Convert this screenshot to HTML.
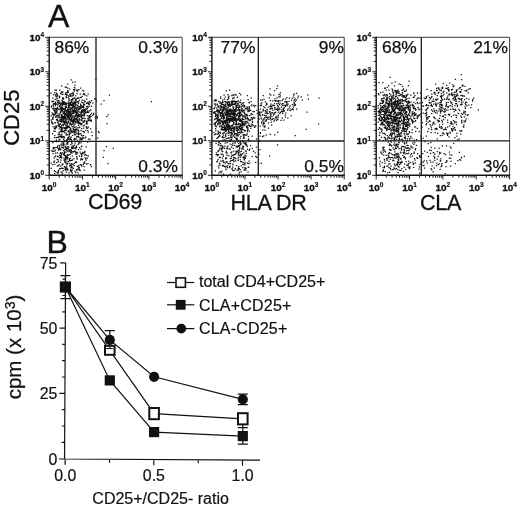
<!DOCTYPE html>
<html lang="en"><head><meta charset="utf-8"><title>Figure</title>
<style>html,body{margin:0;padding:0;background:#fff}body{width:520px;height:510px;overflow:hidden}svg{display:block;filter:blur(.35px)}text{font-family:"Liberation Sans",Arial,Helvetica,sans-serif;fill:#111}.b{font-weight:bold}.tk{font-size:9.9px;font-weight:bold;stroke:#111;stroke-width:.35px}.pc{font-size:17.4px;stroke:#111;stroke-width:.25px}.ax{font-size:21.5px;stroke:#111;stroke-width:.3px}.g{font-size:16px;stroke:#111;stroke-width:.2px}.gt{font-size:15.9px;stroke:#111;stroke-width:.2px}.big{font-size:32px;stroke:#111;stroke-width:.4px}</style></head><body>
<svg width="520" height="510" viewBox="0 0 520 510">
<rect width="520" height="510" fill="#fff"/>
<path d="M59.7 136.3h1.25M52.7 104.7h1.25M60.4 135.8h1.25M72.1 121.3h1.25M57.6 134.4h1.25M67.2 88.0h1.25M66.4 123.7h1.25M59.8 121.6h1.25M67.1 90.8h1.25M57.1 122.3h1.25M69.2 105.3h1.25M88.6 101.9h1.25M68.9 112.2h1.25M79.7 94.1h1.25M74.1 138.4h1.25M87.9 139.2h1.25M60.3 111.6h1.25M100.6 104.2h1.25M72.7 129.2h1.25M74.8 107.0h1.25M72.7 107.7h1.25M82.0 118.6h1.25M78.1 114.0h1.25M76.3 108.2h1.25M74.2 116.9h1.25M82.7 109.1h1.25M77.9 123.7h1.25M77.3 129.9h1.25M58.4 126.5h1.25M80.6 106.5h1.25M79.4 116.9h1.25M74.0 111.7h1.25M53.4 103.7h1.25M96.8 118.0h1.25M69.2 115.5h1.25M62.9 121.6h1.25M65.7 122.5h1.25M67.2 84.0h1.25M69.6 104.2h1.25M81.8 110.9h1.25M67.9 130.8h1.25M79.4 97.7h1.25M73.8 120.2h1.25M60.1 103.8h1.25M88.6 104.4h1.25M77.4 105.5h1.25M67.0 138.0h1.25M65.4 125.1h1.25M77.9 103.4h1.25M81.0 115.8h1.25M68.7 119.9h1.25M72.2 120.1h1.25M56.6 119.4h1.25M62.3 116.4h1.25M66.5 103.6h1.25M62.6 111.9h1.25M52.1 119.3h1.25M60.8 128.2h1.25M83.1 122.1h1.25M82.6 94.3h1.25M52.3 98.2h1.25M62.4 97.7h1.25M56.1 104.0h1.25M69.2 112.7h1.25M81.0 128.5h1.25M62.3 117.5h1.25M58.9 132.1h1.25M75.9 121.8h1.25M71.0 93.8h1.25M72.2 117.7h1.25M63.5 124.3h1.25M53.2 110.0h1.25M71.4 120.6h1.25M91.1 132.1h1.25M69.5 93.9h1.25M69.9 95.5h1.25M65.4 127.3h1.25M63.7 111.5h1.25M73.5 121.7h1.25M67.0 126.6h1.25M56.8 102.3h1.25M61.5 117.0h1.25M55.7 141.0h1.25M62.3 101.9h1.25M61.4 103.9h1.25M74.9 134.4h1.25M61.5 109.3h1.25M77.5 122.5h1.25M61.7 110.5h1.25M65.7 148.4h1.25M74.2 130.4h1.25M70.3 131.9h1.25M82.5 112.2h1.25M73.6 121.0h1.25M71.2 102.7h1.25M80.9 116.1h1.25M86.6 115.7h1.25M80.1 114.2h1.25M61.7 94.3h1.25M68.3 99.2h1.25M56.4 116.2h1.25M61.3 136.8h1.25M79.2 122.4h1.25M70.3 137.2h1.25M53.1 115.0h1.25M77.4 115.3h1.25M70.3 121.7h1.25M83.2 118.0h1.25M76.2 114.3h1.25M86.3 112.2h1.25M60.4 118.9h1.25M78.0 134.8h1.25M56.7 98.1h1.25M74.7 119.1h1.25M78.3 137.1h1.25M81.2 102.1h1.25M67.6 109.4h1.25M66.5 92.3h1.25M80.7 135.2h1.25M61.6 136.1h1.25M86.6 122.2h1.25M77.9 114.9h1.25M62.8 116.6h1.25M71.7 120.9h1.25M57.1 108.3h1.25M71.0 119.6h1.25M73.8 133.8h1.25M75.4 102.6h1.25M65.5 130.0h1.25M58.3 124.7h1.25M85.9 122.0h1.25M75.5 100.4h1.25M55.9 93.2h1.25M57.0 115.5h1.25M70.0 102.4h1.25M85.9 127.2h1.25M63.9 128.5h1.25M56.2 96.0h1.25M75.0 116.5h1.25M78.3 89.5h1.25M67.2 108.8h1.25M72.8 102.9h1.25M86.2 99.1h1.25M78.4 116.3h1.25M83.2 122.4h1.25M59.1 96.3h1.25M70.3 102.6h1.25M69.4 96.3h1.25M68.0 121.7h1.25M73.2 125.2h1.25M84.0 120.5h1.25M72.1 99.5h1.25M80.0 112.1h1.25M73.8 127.1h1.25M73.3 111.0h1.25M75.4 116.1h1.25M63.8 124.1h1.25M61.2 114.6h1.25M77.4 116.8h1.25M59.3 117.7h1.25M63.9 121.8h1.25M64.9 102.8h1.25M53.3 131.1h1.25M74.8 103.8h1.25M70.0 104.5h1.25M69.6 129.1h1.25M63.8 111.6h1.25M80.4 108.9h1.25M59.4 108.8h1.25M71.6 126.5h1.25M83.5 115.9h1.25M77.5 107.5h1.25M86.4 120.9h1.25M63.8 109.6h1.25M80.7 106.8h1.25M81.9 114.9h1.25M89.7 141.3h1.25M64.7 122.5h1.25M76.3 117.8h1.25M76.0 119.8h1.25M59.4 114.1h1.25M73.1 115.8h1.25M52.4 117.6h1.25M61.5 127.8h1.25M62.4 112.2h1.25M81.1 116.6h1.25M64.6 108.4h1.25M71.2 130.9h1.25M67.1 109.0h1.25M65.8 97.5h1.25M54.6 104.6h1.25M73.0 105.0h1.25M58.3 100.3h1.25M75.6 107.7h1.25M60.1 127.6h1.25M77.0 121.8h1.25M65.5 113.7h1.25M60.5 137.8h1.25M54.3 126.6h1.25M57.7 123.3h1.25M61.7 117.5h1.25M68.4 127.4h1.25M81.0 110.7h1.25M62.1 118.9h1.25M62.2 109.7h1.25M70.9 99.6h1.25M67.0 126.7h1.25M81.5 96.4h1.25M69.8 110.8h1.25M72.9 89.5h1.25M61.1 134.3h1.25M70.4 108.2h1.25M90.2 109.9h1.25M82.9 106.1h1.25M83.8 93.9h1.25M64.6 108.5h1.25M58.6 125.4h1.25M54.3 122.7h1.25M83.0 128.2h1.25M73.4 131.5h1.25M52.9 106.1h1.25M86.6 123.9h1.25M62.9 102.7h1.25M88.5 106.3h1.25M62.4 120.9h1.25M70.9 115.1h1.25M78.8 100.0h1.25M68.1 122.6h1.25M83.8 114.8h1.25M59.1 139.7h1.25M81.5 111.6h1.25M71.8 109.7h1.25M65.6 110.8h1.25M75.6 128.8h1.25M56.0 112.3h1.25M72.7 106.6h1.25M74.1 134.9h1.25M77.2 127.9h1.25M87.5 94.2h1.25M74.0 106.9h1.25M73.4 119.2h1.25M76.2 129.5h1.25M61.7 127.4h1.25M84.2 111.6h1.25M85.2 130.4h1.25M59.9 108.4h1.25M63.8 113.2h1.25M79.3 108.8h1.25M71.8 109.7h1.25M72.6 128.5h1.25M58.0 115.4h1.25M61.4 100.7h1.25M65.9 112.9h1.25M60.1 131.4h1.25M72.0 82.0h1.25M61.2 131.9h1.25M92.3 103.2h1.25M56.0 141.7h1.25M80.3 106.7h1.25M75.1 110.1h1.25M87.2 128.2h1.25M68.9 119.1h1.25M87.6 118.0h1.25M84.0 111.6h1.25M60.9 117.7h1.25M80.4 123.7h1.25M93.0 113.3h1.25M78.4 123.7h1.25M64.7 128.2h1.25M70.9 105.7h1.25M50.8 107.0h1.25M57.3 101.0h1.25M66.5 118.3h1.25M84.3 121.0h1.25M79.0 108.3h1.25M64.6 94.4h1.25M55.2 110.2h1.25M79.4 123.6h1.25M64.3 104.2h1.25M64.2 102.6h1.25M51.9 114.4h1.25M73.6 108.6h1.25M60.6 129.9h1.25M68.3 116.7h1.25M60.4 108.0h1.25M65.7 96.1h1.25M65.4 103.0h1.25M59.8 121.7h1.25M77.1 107.4h1.25M58.6 103.4h1.25M52.5 126.9h1.25M60.7 116.6h1.25M56.4 110.0h1.25M79.6 123.5h1.25M59.3 109.0h1.25M58.9 96.8h1.25M59.7 107.2h1.25M77.0 102.0h1.25M65.4 128.4h1.25M61.1 136.6h1.25M85.9 103.3h1.25M63.1 142.8h1.25M74.4 102.0h1.25M60.3 120.7h1.25M91.0 113.3h1.25M82.3 109.6h1.25M83.7 132.3h1.25M80.3 115.1h1.25M53.2 94.5h1.25M97.8 131.7h1.25M64.6 111.2h1.25M75.4 113.7h1.25M65.8 87.0h1.25M74.1 127.3h1.25M58.5 125.9h1.25M69.1 133.9h1.25M51.4 112.8h1.25M83.8 110.3h1.25M84.7 110.3h1.25M56.8 137.4h1.25M57.1 104.8h1.25M87.0 112.2h1.25M65.9 125.1h1.25M75.5 113.4h1.25M75.4 107.1h1.25M63.2 108.4h1.25M60.3 103.6h1.25M62.2 124.6h1.25M69.7 103.8h1.25M70.1 115.8h1.25M76.2 90.8h1.25M88.6 115.6h1.25M81.4 139.4h1.25M65.0 93.5h1.25M66.9 125.9h1.25M64.9 117.9h1.25M61.9 108.9h1.25M56.8 107.4h1.25M75.8 108.0h1.25M80.9 113.0h1.25M95.8 116.2h1.25M56.2 98.2h1.25M70.2 120.1h1.25M60.8 125.8h1.25M72.4 106.4h1.25M87.8 118.1h1.25M76.4 109.3h1.25M65.1 107.7h1.25M86.2 109.6h1.25M77.1 91.0h1.25M80.6 105.6h1.25M87.6 119.2h1.25M66.9 88.0h1.25M73.3 123.5h1.25M74.9 121.6h1.25M63.0 117.1h1.25M64.7 106.0h1.25M55.7 90.1h1.25M83.9 109.6h1.25M87.3 118.6h1.25M70.6 124.5h1.25M73.7 132.4h1.25M72.7 92.8h1.25M60.7 115.4h1.25M67.8 106.0h1.25M74.9 116.0h1.25M69.3 123.3h1.25M83.2 112.9h1.25M84.5 95.2h1.25M60.0 93.5h1.25M97.2 138.2h1.25M61.2 130.2h1.25M55.9 108.8h1.25M84.6 110.8h1.25M62.0 131.9h1.25M60.6 92.9h1.25M78.6 118.7h1.25M61.4 105.9h1.25M83.1 105.0h1.25M52.6 116.9h1.25M83.1 107.4h1.25M75.6 138.8h1.25M69.8 123.0h1.25M83.5 100.3h1.25M63.4 131.1h1.25M78.6 106.7h1.25M60.8 110.8h1.25M52.2 118.2h1.25M90.0 114.5h1.25M73.5 101.9h1.25M85.2 137.2h1.25M79.6 107.5h1.25M80.2 104.1h1.25M58.2 136.0h1.25M78.0 133.9h1.25M77.1 110.8h1.25M74.6 124.0h1.25M51.1 105.9h1.25M82.6 125.8h1.25M73.8 120.6h1.25M61.8 98.8h1.25M70.9 118.4h1.25M89.3 117.5h1.25M78.2 131.0h1.25M56.6 120.9h1.25M55.1 108.6h1.25M84.9 108.5h1.25M92.2 115.4h1.25M63.6 109.9h1.25M95.1 98.7h1.25M52.0 118.3h1.25M72.4 131.8h1.25M59.1 105.6h1.25M75.6 116.2h1.25M80.6 97.4h1.25M81.0 124.7h1.25M76.6 119.7h1.25M90.0 128.9h1.25M59.8 112.2h1.25M64.7 120.1h1.25M74.6 107.7h1.25M76.7 98.4h1.25M80.3 124.7h1.25M66.3 139.7h1.25M80.7 112.6h1.25M55.9 115.5h1.25M80.9 112.5h1.25M73.8 87.3h1.25M93.0 114.3h1.25M51.6 101.9h1.25M82.0 106.3h1.25M81.4 107.3h1.25M69.8 108.2h1.25M72.3 95.4h1.25M74.8 105.4h1.25M52.1 123.9h1.25M83.3 115.3h1.25M68.0 103.7h1.25M78.9 120.2h1.25M61.5 136.8h1.25M78.6 109.6h1.25M61.5 104.7h1.25M87.6 112.3h1.25M64.6 122.9h1.25M88.3 104.6h1.25M90.8 106.2h1.25M59.8 121.5h1.25M58.6 116.1h1.25M91.6 135.5h1.25M90.9 100.7h1.25M70.0 128.7h1.25M77.0 117.6h1.25M77.1 107.7h1.25M54.1 92.6h1.25M53.1 113.9h1.25M68.5 109.4h1.25M70.8 113.9h1.25M70.0 112.7h1.25M62.7 102.2h1.25M82.8 110.7h1.25M57.5 117.5h1.25M72.2 98.3h1.25M68.1 95.9h1.25M56.2 100.1h1.25M87.2 130.5h1.25M65.3 130.5h1.25M89.9 102.5h1.25M80.4 130.7h1.25M81.9 118.7h1.25M88.4 103.6h1.25M74.7 107.9h1.25M66.2 115.8h1.25M67.9 107.4h1.25M63.1 98.7h1.25M76.4 113.1h1.25M59.8 104.9h1.25M60.9 130.5h1.25M85.6 123.8h1.25M83.3 93.7h1.25M86.2 95.9h1.25M68.4 111.8h1.25M66.6 95.2h1.25M76.2 122.6h1.25M52.8 114.3h1.25M53.0 103.7h1.25M54.8 95.2h1.25M88.1 112.1h1.25M66.4 110.4h1.25M50.7 120.1h1.25M70.6 99.8h1.25M53.3 115.2h1.25M61.9 109.5h1.25M54.7 127.6h1.25M70.5 125.0h1.25M59.3 134.4h1.25M77.8 136.5h1.25M64.9 128.2h1.25M63.2 121.5h1.25M77.9 115.7h1.25M70.6 101.8h1.25M73.0 119.7h1.25M62.7 99.0h1.25M79.1 112.0h1.25M51.1 122.9h1.25M53.3 109.3h1.25M70.9 124.8h1.25M73.1 98.4h1.25M87.3 102.3h1.25M87.6 132.4h1.25M73.5 117.0h1.25M64.4 115.3h1.25M72.3 95.6h1.25M60.9 108.4h1.25M68.4 107.2h1.25M66.9 143.4h1.25M73.8 89.6h1.25M60.4 131.2h1.25M64.6 87.1h1.25M68.3 120.2h1.25M62.7 125.7h1.25M77.7 97.9h1.25M75.0 95.9h1.25M62.5 113.6h1.25M77.5 132.9h1.25M61.8 107.5h1.25M70.4 112.2h1.25M66.2 107.3h1.25M55.4 117.4h1.25M56.8 102.3h1.25M54.1 115.2h1.25M66.1 123.0h1.25M65.0 116.5h1.25M72.5 107.8h1.25M74.4 82.0h1.25M72.9 105.7h1.25M83.6 114.0h1.25M64.9 110.9h1.25M71.6 111.1h1.25M84.0 104.6h1.25M87.5 103.5h1.25M77.0 120.6h1.25M69.2 94.6h1.25M59.4 126.6h1.25M61.4 92.4h1.25M67.0 138.3h1.25M70.6 137.0h1.25M54.0 103.9h1.25M65.4 106.8h1.25M54.4 90.1h1.25M55.1 94.9h1.25M57.1 120.5h1.25M54.1 111.9h1.25M59.5 127.1h1.25M55.4 96.7h1.25M58.7 106.3h1.25M52.8 101.4h1.25M63.6 113.9h1.25M64.0 112.6h1.25M63.9 140.7h1.25M65.1 122.7h1.25M86.4 128.4h1.25M58.3 102.2h1.25M74.0 103.8h1.25M67.2 111.9h1.25M95.1 116.9h1.25M52.3 108.5h1.25M74.9 132.1h1.25M86.6 106.4h1.25M73.2 121.2h1.25M71.7 124.1h1.25M81.8 118.1h1.25M53.7 137.6h1.25M80.2 133.6h1.25M61.9 101.1h1.25M60.1 111.2h1.25M63.9 123.4h1.25M70.4 108.0h1.25M88.3 116.7h1.25M55.9 119.6h1.25M52.4 123.7h1.25M70.7 124.3h1.25M87.4 107.3h1.25M68.4 104.7h1.25M87.6 127.2h1.25M69.4 130.0h1.25M67.7 105.5h1.25M86.5 108.7h1.25M62.2 91.8h1.25M68.2 117.1h1.25M94.0 98.9h1.25M59.3 102.2h1.25M71.4 100.9h1.25M77.2 117.3h1.25M56.0 126.7h1.25M57.2 108.6h1.25M82.0 110.8h1.25M70.1 133.2h1.25M60.5 127.6h1.25M77.5 121.1h1.25M71.2 96.2h1.25M62.2 120.3h1.25M74.9 100.9h1.25M60.8 129.1h1.25M71.2 108.4h1.25M65.6 104.3h1.25M82.3 131.3h1.25M65.0 116.8h1.25M50.4 93.0h1.25M74.2 131.7h1.25M74.6 112.1h1.25M66.1 112.2h1.25M87.0 142.2h1.25M70.6 79.9h1.25M76.4 93.5h1.25M78.6 114.7h1.25M80.1 88.1h1.25M63.9 118.8h1.25M82.1 107.4h1.25M64.2 121.1h1.25M76.9 105.5h1.25M62.8 103.5h1.25M68.2 103.9h1.25M84.6 101.5h1.25M70.9 117.8h1.25M57.0 107.6h1.25M59.5 123.5h1.25M64.1 130.5h1.25M82.5 115.4h1.25M55.5 111.7h1.25M66.2 122.0h1.25M64.5 109.5h1.25M77.5 115.5h1.25M70.2 111.8h1.25M73.6 91.0h1.25M81.1 112.7h1.25M78.0 125.4h1.25M54.6 108.4h1.25M89.2 120.3h1.25M90.4 116.4h1.25M72.0 111.9h1.25M67.7 113.8h1.25M74.8 99.6h1.25M71.7 93.1h1.25M60.2 112.3h1.25M63.6 118.2h1.25M84.5 138.1h1.25M70.5 130.2h1.25M62.9 136.6h1.25M76.1 114.9h1.25M55.6 127.5h1.25M62.5 122.1h1.25M74.7 110.0h1.25M80.3 138.0h1.25M80.8 117.7h1.25M67.7 97.4h1.25M56.2 93.5h1.25M53.7 128.5h1.25M71.5 120.0h1.25M90.7 120.1h1.25M79.2 127.1h1.25M64.0 115.9h1.25M76.5 101.8h1.25M89.2 119.1h1.25M62.3 94.3h1.25M78.3 122.0h1.25M77.7 132.0h1.25M94.8 117.9h1.25M78.0 109.0h1.25M62.5 109.8h1.25M69.3 127.6h1.25M85.6 112.0h1.25M58.1 109.5h1.25M77.3 115.2h1.25M58.5 121.1h1.25M71.7 132.4h1.25M89.0 101.4h1.25M50.7 115.9h1.25M65.8 110.3h1.25M59.7 124.0h1.25M55.8 108.6h1.25M83.1 103.9h1.25M71.9 107.1h1.25M70.3 120.3h1.25M64.6 121.3h1.25M58.6 136.4h1.25M76.5 109.1h1.25M74.6 115.2h1.25M65.5 135.1h1.25M87.1 111.2h1.25M74.3 85.0h1.25M72.6 113.1h1.25M68.5 100.5h1.25M70.4 109.1h1.25M61.8 109.8h1.25M82.7 121.0h1.25M68.7 117.6h1.25M77.5 98.4h1.25M72.3 122.6h1.25M65.7 135.2h1.25M51.5 101.0h1.25M62.2 105.2h1.25M68.6 98.8h1.25M61.0 85.8h1.25M81.3 120.8h1.25M59.5 119.3h1.25M62.0 128.9h1.25M67.7 114.7h1.25M65.2 92.9h1.25M66.7 128.0h1.25M74.2 89.6h1.25M68.8 103.9h1.25M58.6 128.8h1.25M69.0 102.8h1.25M89.0 110.7h1.25M76.5 101.6h1.25M67.2 127.1h1.25M58.3 116.9h1.25M63.5 102.7h1.25M81.9 102.7h1.25M59.6 119.3h1.25M83.4 131.7h1.25M72.8 130.2h1.25M67.0 114.1h1.25M75.6 126.9h1.25M67.9 107.6h1.25M75.3 98.8h1.25M54.6 102.2h1.25M53.0 108.0h1.25M74.2 103.2h1.25M54.7 128.8h1.25M64.5 130.4h1.25M66.3 118.1h1.25M62.8 103.1h1.25M63.1 113.6h1.25M79.7 107.1h1.25M75.2 118.6h1.25M87.9 120.6h1.25M67.4 110.4h1.25M67.0 91.9h1.25M73.7 106.1h1.25M83.7 102.2h1.25M56.5 119.3h1.25M68.0 116.1h1.25M65.5 105.8h1.25M72.2 110.5h1.25M68.6 133.0h1.25M73.1 104.0h1.25M63.4 104.4h1.25M67.6 112.4h1.25M61.2 107.0h1.25M61.2 110.1h1.25M65.9 121.1h1.25M65.9 134.9h1.25M56.6 94.5h1.25M81.3 114.8h1.25M66.0 115.5h1.25M54.7 114.0h1.25M77.1 112.8h1.25M60.5 111.1h1.25M71.8 126.5h1.25M67.0 109.7h1.25M69.5 113.5h1.25M68.7 115.0h1.25M62.0 116.2h1.25M67.6 113.0h1.25M85.5 126.5h1.25M67.8 117.0h1.25M71.1 114.4h1.25M57.7 103.5h1.25M54.9 105.5h1.25M86.6 102.9h1.25M63.9 117.2h1.25M85.9 106.8h1.25M72.0 102.8h1.25M67.9 117.7h1.25M71.5 121.0h1.25M72.9 94.8h1.25M77.8 134.4h1.25M71.1 115.4h1.25M68.5 113.8h1.25M68.8 127.3h1.25M79.4 115.8h1.25M74.6 108.1h1.25M58.2 140.2h1.25M61.5 102.6h1.25M70.2 113.9h1.25M61.6 124.7h1.25M63.8 102.7h1.25M58.6 113.8h1.25M64.8 119.4h1.25M71.0 142.6h1.25M76.2 104.7h1.25M67.3 114.5h1.25M85.9 122.6h1.25M66.5 115.9h1.25M95.9 101.2h1.25M76.2 119.7h1.25M71.7 116.2h1.25M62.7 120.1h1.25M65.8 126.7h1.25M68.8 119.7h1.25M84.5 118.6h1.25M54.8 102.4h1.25M84.4 113.5h1.25M64.9 117.5h1.25M73.7 110.4h1.25M68.5 105.5h1.25M64.1 132.6h1.25M73.3 139.7h1.25M68.0 110.5h1.25M56.9 119.6h1.25M75.7 112.3h1.25M73.5 129.5h1.25M72.6 120.0h1.25M76.3 115.9h1.25M77.1 112.4h1.25M67.0 116.5h1.25M55.0 103.5h1.25M54.7 122.8h1.25M79.3 106.8h1.25M73.6 121.2h1.25M68.1 116.5h1.25M63.3 127.6h1.25M67.5 114.8h1.25M67.4 126.8h1.25M64.2 104.4h1.25M60.9 122.0h1.25M86.7 112.4h1.25M69.3 117.2h1.25M61.7 115.8h1.25M55.5 125.8h1.25M60.7 91.8h1.25M73.7 118.7h1.25M74.0 97.8h1.25M65.2 128.9h1.25M67.7 92.3h1.25M64.5 103.5h1.25M57.2 95.8h1.25M78.9 133.9h1.25M70.6 100.2h1.25M89.5 116.3h1.25M60.4 108.8h1.25M66.0 94.3h1.25M75.1 111.1h1.25M65.0 122.6h1.25M54.7 112.9h1.25M58.7 125.8h1.25M68.1 110.8h1.25M70.3 115.1h1.25M66.3 110.6h1.25M76.2 119.0h1.25M76.1 136.8h1.25M70.1 119.2h1.25M67.4 117.2h1.25M64.9 107.9h1.25M72.2 106.3h1.25M75.5 131.8h1.25M67.7 102.2h1.25M71.2 104.5h1.25M64.3 113.9h1.25M54.5 110.1h1.25M58.2 137.5h1.25M74.1 87.8h1.25M71.2 119.2h1.25M81.5 123.2h1.25M67.7 102.1h1.25M75.0 107.6h1.25M79.1 120.0h1.25M76.2 133.7h1.25M61.7 104.4h1.25M65.5 96.8h1.25M68.4 126.2h1.25M58.3 132.5h1.25M71.5 111.1h1.25M76.4 89.5h1.25M62.9 131.7h1.25M85.0 112.7h1.25M64.6 127.9h1.25M65.4 114.5h1.25M65.1 110.7h1.25M60.8 109.8h1.25M71.0 131.9h1.25M67.4 131.5h1.25M82.2 90.4h1.25M72.7 104.2h1.25M72.0 135.4h1.25M65.2 110.8h1.25M54.5 99.4h1.25M66.4 115.1h1.25M59.5 113.8h1.25M75.8 113.9h1.25M66.9 109.5h1.25M82.2 111.4h1.25M73.8 109.8h1.25M74.7 118.8h1.25M69.3 105.7h1.25M69.1 111.7h1.25M73.1 113.3h1.25M75.5 130.0h1.25M60.8 119.3h1.25M71.6 113.7h1.25M90.8 121.2h1.25M66.4 119.7h1.25M64.9 127.5h1.25M61.0 120.8h1.25M54.2 135.6h1.25M77.9 130.5h1.25M67.7 114.5h1.25M69.9 110.2h1.25M83.8 125.1h1.25M89.8 120.9h1.25M59.2 113.9h1.25M76.7 98.0h1.25M72.8 93.9h1.25M70.8 119.0h1.25M71.5 123.9h1.25M67.0 124.2h1.25M81.5 100.2h1.25M72.7 126.9h1.25M70.3 108.9h1.25M78.4 119.5h1.25M75.3 119.8h1.25M71.4 105.8h1.25M70.2 108.2h1.25M83.0 91.2h1.25M71.8 104.5h1.25M66.4 94.3h1.25M59.5 120.0h1.25M64.1 115.7h1.25M57.8 125.5h1.25M68.2 119.1h1.25M69.5 107.7h1.25M67.4 110.5h1.25M73.1 122.0h1.25M68.7 118.6h1.25M58.6 103.6h1.25M78.6 115.0h1.25M61.0 115.6h1.25M56.2 111.5h1.25M57.5 125.3h1.25M67.1 134.7h1.25M76.1 110.8h1.25M77.7 111.0h1.25M69.1 89.1h1.25M56.5 113.5h1.25M61.3 110.0h1.25M59.1 90.1h1.25M65.6 118.3h1.25M51.2 121.8h1.25M68.2 106.6h1.25M73.0 110.7h1.25M65.9 103.9h1.25M71.4 123.8h1.25M58.8 97.5h1.25M54.1 111.4h1.25M61.5 137.4h1.25M77.6 115.6h1.25M76.5 120.4h1.25M63.1 113.3h1.25M78.0 101.5h1.25M64.3 114.6h1.25M80.8 119.7h1.25M71.6 103.2h1.25M63.1 118.9h1.25M74.4 129.3h1.25M60.2 127.3h1.25M58.8 96.8h1.25M54.1 103.8h1.25M69.5 96.4h1.25M66.7 127.3h1.25M66.5 122.0h1.25M63.5 123.1h1.25M80.1 104.9h1.25M63.4 101.6h1.25M60.7 115.9h1.25M78.4 116.2h1.25M80.0 105.2h1.25M70.2 116.6h1.25M51.5 122.4h1.25M61.8 117.6h1.25M72.7 103.0h1.25M67.4 90.7h1.25M81.2 112.0h1.25M54.9 116.9h1.25M73.3 112.0h1.25M61.6 110.1h1.25M65.8 144.0h1.25M53.5 158.0h1.25M50.6 163.0h1.25M77.4 141.1h1.25M66.0 147.5h1.25M55.0 153.1h1.25M62.5 142.9h1.25M60.1 149.3h1.25M65.5 163.5h1.25M71.6 147.9h1.25M75.1 172.6h1.25M84.5 157.9h1.25M63.4 144.6h1.25M82.9 153.1h1.25M68.8 160.3h1.25M71.2 160.3h1.25M65.8 140.7h1.25M76.2 158.2h1.25M61.8 173.9h1.25M57.4 156.5h1.25M56.4 172.4h1.25M56.5 159.4h1.25M64.0 151.9h1.25M64.5 167.2h1.25M70.0 139.4h1.25M85.7 160.1h1.25M60.4 153.2h1.25M81.5 159.5h1.25M67.6 139.4h1.25M60.5 144.4h1.25M72.0 159.8h1.25M65.1 156.7h1.25M73.6 165.5h1.25M60.7 172.4h1.25M59.8 162.4h1.25M76.9 136.6h1.25M61.2 168.0h1.25M70.0 165.3h1.25M64.7 149.2h1.25M62.6 168.3h1.25M75.9 147.4h1.25M65.9 158.1h1.25M72.5 164.6h1.25M78.4 168.9h1.25M59.7 166.2h1.25M56.9 156.4h1.25M59.0 168.7h1.25M80.4 142.8h1.25M63.1 145.9h1.25M68.0 137.3h1.25M60.3 160.2h1.25M53.1 162.1h1.25M80.4 153.6h1.25M79.7 164.8h1.25M64.5 161.9h1.25M57.2 173.4h1.25M82.2 138.7h1.25M78.9 147.5h1.25M65.7 157.9h1.25M69.1 124.1h1.25M59.8 156.6h1.25M59.8 156.6h1.25M69.2 165.5h1.25M66.8 156.2h1.25M75.7 147.3h1.25M76.0 169.7h1.25M64.3 160.9h1.25M61.4 142.8h1.25M57.8 150.1h1.25M62.6 147.7h1.25M70.9 171.2h1.25M79.1 169.9h1.25M58.7 147.9h1.25M70.2 152.7h1.25M70.3 131.6h1.25M65.7 169.3h1.25M75.3 148.9h1.25M84.2 161.9h1.25M63.9 152.2h1.25M62.6 148.2h1.25M57.7 148.6h1.25M81.8 153.1h1.25M70.0 160.6h1.25M66.7 158.8h1.25M81.1 146.1h1.25M70.7 163.5h1.25M59.2 155.3h1.25M57.5 165.7h1.25M58.9 149.3h1.25M70.2 144.5h1.25M70.4 149.9h1.25M80.6 119.8h1.25M68.8 134.5h1.25M81.6 153.9h1.25M65.0 156.7h1.25M80.8 154.7h1.25M66.0 166.1h1.25M78.7 170.1h1.25M66.9 163.4h1.25M72.4 151.8h1.25M55.8 140.2h1.25M57.8 170.9h1.25M55.1 155.8h1.25M61.1 168.0h1.25M65.4 152.0h1.25M84.1 152.3h1.25M77.5 172.8h1.25M63.6 154.0h1.25M63.9 149.8h1.25M54.3 150.8h1.25M53.7 161.9h1.25M82.7 164.7h1.25M65.1 159.5h1.25M62.0 168.4h1.25M64.4 169.7h1.25M76.0 154.2h1.25M68.2 138.9h1.25M58.5 145.4h1.25M63.2 138.1h1.25M65.1 158.0h1.25M74.0 145.1h1.25M70.0 160.6h1.25M62.0 152.8h1.25M68.4 172.8h1.25M71.7 173.1h1.25M75.9 146.0h1.25M67.1 158.5h1.25M71.1 167.4h1.25M63.3 160.2h1.25M56.8 147.0h1.25M75.3 161.5h1.25M63.4 158.2h1.25M77.9 167.0h1.25M70.1 167.8h1.25M65.1 149.5h1.25M67.2 157.5h1.25M78.6 127.5h1.25M54.8 171.6h1.25M54.5 150.1h1.25M57.6 160.2h1.25M80.8 164.9h1.25M76.6 159.1h1.25M73.6 139.0h1.25M52.2 142.6h1.25M52.2 164.5h1.25M79.6 152.0h1.25M82.0 159.1h1.25M60.2 152.6h1.25M67.3 146.7h1.25M67.5 142.3h1.25M67.5 148.8h1.25M61.6 164.7h1.25M57.0 146.1h1.25M90.7 166.7h1.25M59.3 149.6h1.25M63.8 137.5h1.25M55.5 137.7h1.25M78.7 167.6h1.25M56.8 152.9h1.25M64.7 168.4h1.25M67.2 169.3h1.25M82.8 137.7h1.25M71.0 147.8h1.25M78.8 156.2h1.25M75.4 154.3h1.25M86.8 158.0h1.25M71.7 170.0h1.25M77.1 152.9h1.25M72.1 146.0h1.25M68.6 131.5h1.25M70.9 148.1h1.25M69.8 158.3h1.25M69.5 154.4h1.25M80.3 139.0h1.25M71.1 172.2h1.25M76.1 136.4h1.25M66.7 140.8h1.25M64.9 125.1h1.25M62.1 164.4h1.25M80.8 146.7h1.25M71.1 140.5h1.25M82.3 152.3h1.25M64.5 147.1h1.25M65.7 172.2h1.25M65.3 156.8h1.25M67.1 170.1h1.25M59.2 148.2h1.25M80.2 159.8h1.25M59.6 153.4h1.25M74.5 143.1h1.25M79.6 170.6h1.25M80.2 149.1h1.25M65.2 162.6h1.25M69.9 169.5h1.25M67.8 146.8h1.25M69.5 158.5h1.25M60.0 155.8h1.25M66.7 168.1h1.25M76.1 152.4h1.25M89.9 164.6h1.25M69.7 164.8h1.25M60.8 154.2h1.25M71.0 148.2h1.25M65.0 155.6h1.25M79.6 137.8h1.25M60.8 154.8h1.25M76.3 170.6h1.25M56.1 147.6h1.25M52.2 151.3h1.25M66.4 161.4h1.25M61.9 174.0h1.25M66.2 156.9h1.25M71.3 151.7h1.25M69.6 170.9h1.25M87.7 156.1h1.25M69.0 151.2h1.25M68.6 163.2h1.25M70.6 170.6h1.25M54.0 173.7h1.25M61.3 145.9h1.25M74.5 148.3h1.25M72.7 168.4h1.25M59.0 134.4h1.25M56.7 166.0h1.25M54.4 156.5h1.25M83.5 166.7h1.25M66.7 154.7h1.25M56.1 162.7h1.25M60.0 149.9h1.25M84.9 158.9h1.25M63.4 136.6h1.25M71.4 166.5h1.25M51.0 150.6h1.25M68.9 139.1h1.25M76.7 166.3h1.25M62.9 150.7h1.25M81.6 135.9h1.25M71.5 167.8h1.25M58.9 157.8h1.25M75.5 152.3h1.25M71.7 156.1h1.25M53.3 147.8h1.25M64.0 166.5h1.25M60.5 144.5h1.25M75.2 147.2h1.25M69.6 138.2h1.25M61.9 164.6h1.25M68.3 154.9h1.25M53.0 151.3h1.25M74.1 141.1h1.25M73.0 145.8h1.25M53.9 161.2h1.25M64.3 155.7h1.25M84.1 155.0h1.25M50.7 168.4h1.25M80.8 139.8h1.25M63.1 154.5h1.25M67.5 155.4h1.25M66.7 148.4h1.25M59.8 157.1h1.25M69.1 158.5h1.25M58.1 170.2h1.25M74.8 151.4h1.25M74.3 171.3h1.25M61.4 147.7h1.25M65.5 133.3h1.25M69.3 149.8h1.25M66.4 143.0h1.25M72.7 147.3h1.25M71.1 146.8h1.25M74.9 152.8h1.25M61.2 172.1h1.25M78.2 143.5h1.25M77.4 144.4h1.25M70.7 150.6h1.25M71.2 153.2h1.25M81.1 166.1h1.25M68.0 161.4h1.25M79.3 139.6h1.25M71.5 164.0h1.25M64.0 153.1h1.25M60.5 157.5h1.25M87.3 163.6h1.25M65.0 158.8h1.25M64.1 159.7h1.25M83.0 162.9h1.25M74.1 148.1h1.25M89.3 139.1h1.25M85.8 164.2h1.25M66.5 141.7h1.25M73.6 163.3h1.25M65.4 170.2h1.25M54.2 164.4h1.25M77.1 169.1h1.25M76.0 156.7h1.25M78.7 142.6h1.25M77.5 141.7h1.25M65.0 146.2h1.25M68.6 136.1h1.25M71.5 143.7h1.25M70.7 165.6h1.25M86.4 158.2h1.25M70.6 171.2h1.25M53.0 148.8h1.25M83.0 135.6h1.25M90.1 164.8h1.25M52.5 148.6h1.25M60.2 166.0h1.25M73.3 158.5h1.25M83.9 163.3h1.25M54.8 141.3h1.25M69.7 151.9h1.25M59.1 146.4h1.25M85.5 146.8h1.25M76.8 140.7h1.25M74.0 151.1h1.25M75.7 162.4h1.25M61.1 157.9h1.25M78.1 165.7h1.25M63.1 139.6h1.25M72.7 148.1h1.25M62.6 170.5h1.25M62.1 144.8h1.25M64.7 147.1h1.25M68.2 147.1h1.25M64.1 162.0h1.25M80.4 158.7h1.25M70.6 139.3h1.25M57.8 172.2h1.25M75.0 122.0h1.25M62.1 163.9h1.25M68.1 150.0h1.25M61.6 130.9h1.25M69.4 141.1h1.25M63.0 143.4h1.25M59.6 155.9h1.25M52.4 141.6h1.25M71.1 163.9h1.25M84.7 154.6h1.25M52.5 153.5h1.25M64.9 157.4h1.25M58.5 164.5h1.25M62.9 153.8h1.25M59.9 168.7h1.25M73.4 151.5h1.25M75.0 139.1h1.25M84.3 151.4h1.25M54.7 147.5h1.25M67.4 151.6h1.25M70.2 150.0h1.25M83.4 153.2h1.25M80.9 156.7h1.25M66.5 164.3h1.25M54.5 131.3h1.25M81.2 155.9h1.25M69.6 150.0h1.25M67.1 144.1h1.25M69.4 166.1h1.25M66.2 150.2h1.25M86.0 155.4h1.25M83.6 170.1h1.25M52.8 147.3h1.25M53.7 170.5h1.25M57.7 161.6h1.25M74.9 162.5h1.25M66.6 150.5h1.25M60.7 156.9h1.25M68.8 159.9h1.25M77.9 149.6h1.25M63.7 155.2h1.25M65.5 167.8h1.25M81.7 138.0h1.25M72.3 148.5h1.25M52.0 133.5h1.25M112.6 148.3h1.25M108.8 95.0h1.25M107.4 163.5h1.25M102.8 157.4h1.25M106.2 116.7h1.25M107.6 114.9h1.25M106.3 123.5h1.25M105.8 146.7h1.25M96.7 116.6h1.25M103.4 100.7h1.25M98.6 132.6h1.25M95.3 79.6h1.25M95.5 128.1h1.25M103.4 150.5h1.25M150.8 101.5h1.25" stroke="#111" stroke-width="1.25" fill="none"/>
<path d="M49.2 37.3H182.2V175.3" fill="none" stroke="#3a3a3a" stroke-width="1"/>
<path d="M49.2 36.8V175.3H182.7" fill="none" stroke="#111" stroke-width="1.4"/>
<path d="M96.0 37.3V175.3M49.2 141.3H182.2" stroke="#1a1a1a" stroke-width="1.3" fill="none"/>
<path d="M49.2 175.3v4.2M49.2 175.3h-4M59.2 175.3v2.4M49.2 164.9h-2.5M65.1 175.3v2.4M49.2 158.8h-2.5M69.2 175.3v2.4M49.2 154.5h-2.5M72.4 175.3v2.4M49.2 151.2h-2.5M75.1 175.3v2.4M49.2 148.5h-2.5M77.3 175.3v2.4M49.2 146.1h-2.5M79.2 175.3v2.4M49.2 144.1h-2.5M80.9 175.3v2.4M49.2 142.4h-2.5M82.5 175.3v4.2M49.2 140.8h-4M92.5 175.3v2.4M49.2 130.4h-2.5M98.3 175.3v2.4M49.2 124.3h-2.5M102.5 175.3v2.4M49.2 120.0h-2.5M105.7 175.3v2.4M49.2 116.7h-2.5M108.3 175.3v2.4M49.2 114.0h-2.5M110.5 175.3v2.4M49.2 111.6h-2.5M112.5 175.3v2.4M49.2 109.6h-2.5M114.2 175.3v2.4M49.2 107.9h-2.5M115.7 175.3v4.2M49.2 106.3h-4M125.7 175.3v2.4M49.2 95.9h-2.5M131.6 175.3v2.4M49.2 89.8h-2.5M135.7 175.3v2.4M49.2 85.5h-2.5M138.9 175.3v2.4M49.2 82.2h-2.5M141.6 175.3v2.4M49.2 79.5h-2.5M143.8 175.3v2.4M49.2 77.1h-2.5M145.7 175.3v2.4M49.2 75.1h-2.5M147.4 175.3v2.4M49.2 73.4h-2.5M148.9 175.3v4.2M49.2 71.8h-4M159.0 175.3v2.4M49.2 61.4h-2.5M164.8 175.3v2.4M49.2 55.3h-2.5M169.0 175.3v2.4M49.2 51.0h-2.5M172.2 175.3v2.4M49.2 47.7h-2.5M174.8 175.3v2.4M49.2 45.0h-2.5M177.0 175.3v2.4M49.2 42.6h-2.5M179.0 175.3v2.4M49.2 40.6h-2.5M180.7 175.3v2.4M49.2 38.9h-2.5M182.2 175.3v4.2M49.2 37.3h-4" stroke="#222" stroke-width="1" fill="none"/>
<text class="tk" x="41.8" y="190.7">10<tspan font-size="6.5" dy="-3.5" stroke-width=".2">0</tspan></text>
<text class="tk" x="29.6" y="178.7">10<tspan font-size="6.5" dy="-3.5" stroke-width=".2">0</tspan></text>
<text class="tk" x="75.0" y="190.7">10<tspan font-size="6.5" dy="-3.5" stroke-width=".2">1</tspan></text>
<text class="tk" x="29.6" y="144.2">10<tspan font-size="6.5" dy="-3.5" stroke-width=".2">1</tspan></text>
<text class="tk" x="108.3" y="190.7">10<tspan font-size="6.5" dy="-3.5" stroke-width=".2">2</tspan></text>
<text class="tk" x="29.6" y="109.7">10<tspan font-size="6.5" dy="-3.5" stroke-width=".2">2</tspan></text>
<text class="tk" x="141.5" y="190.7">10<tspan font-size="6.5" dy="-3.5" stroke-width=".2">3</tspan></text>
<text class="tk" x="29.6" y="75.2">10<tspan font-size="6.5" dy="-3.5" stroke-width=".2">3</tspan></text>
<text class="tk" x="174.8" y="190.7">10<tspan font-size="6.5" dy="-3.5" stroke-width=".2">4</tspan></text>
<text class="tk" x="29.6" y="40.7">10<tspan font-size="6.5" dy="-3.5" stroke-width=".2">4</tspan></text>
<text class="pc" x="54.5" y="52.6">86%</text>
<text class="pc" x="178.0" y="52.6" text-anchor="end">0.3%</text>
<text class="pc" x="178.0" y="171.7" text-anchor="end">0.3%</text>
<text class="ax" x="115" y="208.7" text-anchor="middle" letter-spacing="-.3">CD69</text>
<path d="M242.5 116.4h1.25M247.8 118.8h1.25M239.8 115.6h1.25M232.4 98.1h1.25M247.5 99.7h1.25M248.5 106.6h1.25M220.3 107.8h1.25M228.1 126.8h1.25M243.1 119.6h1.25M231.0 111.3h1.25M223.0 110.5h1.25M221.7 102.8h1.25M220.1 96.8h1.25M214.5 103.8h1.25M239.8 102.4h1.25M229.6 121.4h1.25M226.5 142.5h1.25M215.9 115.7h1.25M216.6 120.9h1.25M229.2 129.0h1.25M240.0 128.7h1.25M223.5 109.0h1.25M254.5 126.6h1.25M230.2 104.8h1.25M242.4 123.4h1.25M234.0 101.1h1.25M221.9 122.7h1.25M259.5 113.0h1.25M219.1 126.9h1.25M236.5 138.0h1.25M216.8 120.1h1.25M228.9 109.3h1.25M225.8 127.2h1.25M242.4 116.6h1.25M226.7 116.4h1.25M236.9 135.5h1.25M223.9 127.3h1.25M221.3 118.4h1.25M227.9 128.1h1.25M250.2 128.3h1.25M247.3 111.0h1.25M240.9 123.2h1.25M251.6 118.1h1.25M221.9 110.4h1.25M240.4 102.8h1.25M243.6 123.9h1.25M214.8 116.3h1.25M220.9 129.6h1.25M225.6 124.9h1.25M241.3 127.1h1.25M251.9 119.2h1.25M243.3 106.5h1.25M249.1 120.5h1.25M214.5 113.2h1.25M221.8 122.6h1.25M217.9 120.7h1.25M232.4 106.8h1.25M235.4 111.2h1.25M235.9 120.6h1.25M222.3 129.9h1.25M220.3 116.4h1.25M225.4 108.1h1.25M240.0 120.2h1.25M234.9 102.4h1.25M232.1 110.6h1.25M258.6 119.2h1.25M222.9 122.0h1.25M234.2 133.7h1.25M231.8 111.2h1.25M221.8 110.8h1.25M228.9 132.4h1.25M222.1 121.4h1.25M242.0 124.1h1.25M219.5 109.4h1.25M228.8 109.7h1.25M232.2 112.9h1.25M220.1 112.5h1.25M228.9 111.2h1.25M223.8 121.8h1.25M222.6 123.6h1.25M224.8 129.8h1.25M236.5 105.7h1.25M215.2 130.5h1.25M233.7 129.0h1.25M232.8 115.8h1.25M238.5 110.2h1.25M223.5 121.9h1.25M243.5 112.9h1.25M224.5 122.1h1.25M218.4 121.1h1.25M261.3 119.0h1.25M246.0 126.8h1.25M241.0 121.3h1.25M246.7 130.6h1.25M233.7 110.9h1.25M248.7 131.2h1.25M226.4 133.4h1.25M235.7 122.2h1.25M225.2 101.8h1.25M237.0 128.5h1.25M228.3 112.1h1.25M227.2 114.7h1.25M219.6 115.3h1.25M235.1 111.6h1.25M231.8 133.6h1.25M220.9 113.4h1.25M220.1 102.3h1.25M246.2 108.5h1.25M240.5 132.4h1.25M257.8 117.4h1.25M238.9 112.1h1.25M220.2 107.8h1.25M243.7 115.8h1.25M233.2 112.8h1.25M230.4 112.5h1.25M223.1 106.8h1.25M227.7 118.3h1.25M223.8 99.2h1.25M235.6 124.6h1.25M246.3 106.9h1.25M233.4 118.6h1.25M244.6 117.2h1.25M227.9 102.0h1.25M225.6 121.2h1.25M238.7 106.0h1.25M221.5 107.1h1.25M218.2 101.4h1.25M223.3 116.3h1.25M232.9 131.5h1.25M231.8 101.2h1.25M225.5 110.3h1.25M246.6 133.8h1.25M226.0 125.9h1.25M231.2 129.8h1.25M221.9 128.2h1.25M239.6 113.8h1.25M215.6 126.8h1.25M223.5 120.5h1.25M236.8 97.1h1.25M255.1 125.8h1.25M243.3 124.1h1.25M227.5 99.0h1.25M239.7 124.5h1.25M221.8 114.9h1.25M241.0 110.3h1.25M241.5 118.9h1.25M238.1 119.2h1.25M232.0 125.6h1.25M229.0 120.0h1.25M226.0 115.4h1.25M228.1 97.9h1.25M215.0 128.6h1.25M227.7 105.5h1.25M241.2 129.2h1.25M217.4 131.0h1.25M230.4 101.5h1.25M232.6 132.1h1.25M222.1 101.5h1.25M223.9 108.2h1.25M231.8 128.2h1.25M236.5 110.6h1.25M237.1 130.0h1.25M234.5 117.6h1.25M231.2 125.3h1.25M226.6 110.3h1.25M233.6 114.4h1.25M232.4 117.4h1.25M213.1 112.4h1.25M235.5 119.2h1.25M223.6 108.6h1.25M236.8 126.8h1.25M226.0 118.7h1.25M243.6 110.0h1.25M216.0 110.4h1.25M239.2 131.9h1.25M228.8 102.6h1.25M253.7 111.7h1.25M251.9 122.3h1.25M245.4 121.3h1.25M228.1 126.3h1.25M238.6 115.5h1.25M218.1 132.9h1.25M219.5 132.4h1.25M248.8 125.2h1.25M225.5 123.1h1.25M219.3 110.7h1.25M250.1 110.4h1.25M250.6 113.6h1.25M229.9 130.3h1.25M217.9 119.9h1.25M245.4 123.7h1.25M234.1 109.9h1.25M233.1 122.7h1.25M226.8 122.3h1.25M225.7 120.7h1.25M233.9 104.7h1.25M222.9 108.3h1.25M240.4 126.0h1.25M221.7 124.6h1.25M230.5 119.2h1.25M219.6 119.2h1.25M217.3 137.6h1.25M230.2 111.7h1.25M231.0 114.0h1.25M225.5 115.4h1.25M221.5 126.3h1.25M247.1 128.9h1.25M251.2 126.1h1.25M242.1 103.3h1.25M240.9 124.9h1.25M227.6 124.8h1.25M246.5 118.9h1.25M242.9 124.9h1.25M234.9 124.6h1.25M227.1 116.0h1.25M238.8 119.0h1.25M238.5 130.2h1.25M239.4 106.4h1.25M243.6 137.8h1.25M220.4 112.6h1.25M238.9 109.6h1.25M230.1 115.0h1.25M225.6 115.6h1.25M221.1 128.1h1.25M228.2 124.6h1.25M253.7 106.5h1.25M214.0 134.5h1.25M220.7 112.9h1.25M247.5 111.6h1.25M226.7 125.1h1.25M227.2 122.9h1.25M248.6 111.1h1.25M215.2 118.3h1.25M219.8 105.5h1.25M221.5 106.8h1.25M228.8 110.9h1.25M245.6 109.1h1.25M224.1 121.2h1.25M239.9 113.2h1.25M232.6 108.1h1.25M236.5 119.8h1.25M235.3 106.4h1.25M241.5 125.2h1.25M228.0 112.6h1.25M225.4 106.4h1.25M253.2 117.4h1.25M230.2 110.6h1.25M216.9 104.8h1.25M237.0 132.1h1.25M258.6 111.9h1.25M226.5 108.2h1.25M224.2 127.1h1.25M244.4 124.6h1.25M230.7 133.3h1.25M235.4 127.9h1.25M246.3 118.5h1.25M232.5 127.3h1.25M231.3 101.2h1.25M228.7 125.8h1.25M237.6 109.3h1.25M217.1 123.6h1.25M217.4 113.4h1.25M224.2 127.3h1.25M228.2 120.9h1.25M226.6 119.3h1.25M241.0 114.8h1.25M228.6 110.7h1.25M227.7 130.2h1.25M231.2 130.0h1.25M239.6 125.8h1.25M227.7 112.1h1.25M227.4 125.2h1.25M232.3 117.8h1.25M246.4 121.4h1.25M220.4 109.9h1.25M220.8 104.6h1.25M233.8 128.3h1.25M215.1 114.7h1.25M221.7 114.2h1.25M253.1 125.6h1.25M218.5 132.7h1.25M213.6 124.1h1.25M244.7 108.4h1.25M247.8 119.8h1.25M248.9 107.9h1.25M221.4 121.6h1.25M218.8 120.6h1.25M249.0 115.5h1.25M228.2 114.0h1.25M248.3 140.9h1.25M232.8 120.8h1.25M237.0 104.2h1.25M213.7 111.9h1.25M228.3 120.7h1.25M214.5 123.0h1.25M227.3 124.3h1.25M234.1 103.7h1.25M223.0 115.8h1.25M216.5 104.7h1.25M236.3 102.8h1.25M235.6 133.7h1.25M244.2 114.2h1.25M232.2 104.5h1.25M230.8 132.1h1.25M227.3 116.0h1.25M229.5 104.8h1.25M222.1 109.4h1.25M246.8 95.5h1.25M248.1 119.2h1.25M257.1 122.1h1.25M235.8 115.9h1.25M214.9 105.8h1.25M218.0 111.9h1.25M240.5 125.1h1.25M228.7 118.6h1.25M247.1 127.6h1.25M218.1 106.0h1.25M236.0 106.9h1.25M239.0 110.5h1.25M229.0 118.4h1.25M228.9 140.5h1.25M243.5 116.1h1.25M218.2 122.7h1.25M236.8 133.8h1.25M220.4 129.3h1.25M225.6 127.0h1.25M222.2 116.3h1.25M214.5 104.3h1.25M223.3 111.2h1.25M234.8 104.1h1.25M252.3 111.7h1.25M225.3 122.2h1.25M242.2 105.3h1.25M231.2 95.6h1.25M233.4 112.7h1.25M215.1 111.5h1.25M250.9 124.1h1.25M236.8 130.6h1.25M225.4 122.4h1.25M230.7 104.0h1.25M240.6 120.6h1.25M221.1 112.2h1.25M252.1 114.4h1.25M244.4 130.4h1.25M213.7 112.2h1.25M230.8 112.7h1.25M243.5 137.1h1.25M225.5 130.8h1.25M219.9 98.3h1.25M232.8 112.2h1.25M237.6 132.5h1.25M255.1 105.6h1.25M243.5 130.0h1.25M232.5 127.2h1.25M233.9 101.5h1.25M217.9 117.4h1.25M227.2 111.0h1.25M239.7 113.8h1.25M221.9 133.6h1.25M240.2 126.9h1.25M217.7 133.4h1.25M228.0 127.7h1.25M253.9 127.3h1.25M241.3 106.4h1.25M225.5 106.1h1.25M240.9 110.2h1.25M241.2 111.2h1.25M222.5 127.5h1.25M232.1 98.5h1.25M245.6 114.7h1.25M227.3 125.3h1.25M233.1 101.3h1.25M226.2 117.6h1.25M247.5 129.7h1.25M225.6 119.6h1.25M250.2 119.5h1.25M230.1 115.2h1.25M237.9 108.1h1.25M219.0 135.1h1.25M234.9 117.5h1.25M227.0 103.8h1.25M225.2 115.1h1.25M215.8 122.1h1.25M230.0 109.5h1.25M213.4 108.8h1.25M240.7 104.5h1.25M238.0 116.5h1.25M238.2 115.8h1.25M230.1 105.1h1.25M245.4 114.3h1.25M231.2 102.7h1.25M217.9 136.4h1.25M222.8 124.3h1.25M229.7 109.6h1.25M218.1 111.3h1.25M229.4 110.5h1.25M214.5 99.7h1.25M217.8 131.2h1.25M243.5 138.2h1.25M223.0 117.5h1.25M244.5 117.3h1.25M244.4 122.7h1.25M256.3 110.3h1.25M225.1 134.4h1.25M235.9 106.8h1.25M237.6 119.1h1.25M227.2 116.3h1.25M213.7 123.9h1.25M237.3 120.1h1.25M233.7 134.5h1.25M224.9 136.7h1.25M226.4 111.6h1.25M229.9 126.4h1.25M251.9 124.5h1.25M225.9 118.9h1.25M239.7 112.3h1.25M235.3 129.6h1.25M232.0 103.1h1.25M233.2 117.6h1.25M241.9 123.5h1.25M217.9 131.2h1.25M215.3 125.9h1.25M240.1 129.8h1.25M239.1 113.7h1.25M216.9 114.6h1.25M227.8 131.3h1.25M238.9 107.6h1.25M235.2 114.4h1.25M239.1 93.3h1.25M227.5 107.4h1.25M234.6 116.7h1.25M225.6 129.5h1.25M254.2 118.2h1.25M223.1 115.0h1.25M235.7 118.9h1.25M225.4 121.6h1.25M241.7 121.7h1.25M232.3 100.9h1.25M213.4 132.7h1.25M225.9 114.8h1.25M227.9 97.0h1.25M228.9 122.7h1.25M239.9 113.9h1.25M217.6 115.1h1.25M224.3 127.8h1.25M226.9 111.1h1.25M225.8 90.8h1.25M223.0 123.3h1.25M227.9 113.0h1.25M246.0 135.1h1.25M222.0 100.1h1.25M243.9 112.6h1.25M239.2 111.2h1.25M238.6 113.6h1.25M224.1 129.5h1.25M247.2 109.3h1.25M225.6 119.9h1.25M230.3 132.4h1.25M223.2 107.0h1.25M239.9 100.0h1.25M224.2 101.5h1.25M228.4 106.4h1.25M245.8 126.4h1.25M239.0 114.8h1.25M241.8 115.9h1.25M214.1 107.8h1.25M228.3 96.0h1.25M246.5 127.9h1.25M223.1 130.0h1.25M250.1 126.2h1.25M218.5 101.5h1.25M238.4 112.9h1.25M248.0 123.2h1.25M233.4 123.0h1.25M232.7 108.9h1.25M217.2 109.6h1.25M232.1 145.3h1.25M242.3 110.8h1.25M215.3 118.8h1.25M249.6 126.4h1.25M224.0 132.7h1.25M215.9 100.2h1.25M247.3 111.6h1.25M228.3 138.0h1.25M219.9 114.4h1.25M232.2 128.3h1.25M232.2 110.7h1.25M250.7 117.6h1.25M240.2 112.4h1.25M227.2 101.8h1.25M220.7 108.0h1.25M222.8 110.4h1.25M220.9 117.5h1.25M225.2 123.0h1.25M231.0 128.6h1.25M224.4 120.5h1.25M227.4 122.8h1.25M228.1 104.4h1.25M215.1 100.8h1.25M220.8 121.6h1.25M219.3 112.7h1.25M242.1 111.0h1.25M234.9 103.4h1.25M230.5 132.7h1.25M222.7 107.2h1.25M252.9 117.9h1.25M224.8 140.9h1.25M224.0 122.3h1.25M224.6 113.1h1.25M218.4 107.5h1.25M227.7 113.6h1.25M221.4 126.3h1.25M230.7 120.3h1.25M226.8 120.1h1.25M213.9 103.8h1.25M222.5 116.5h1.25M240.8 120.7h1.25M225.2 121.6h1.25M221.5 126.8h1.25M224.9 131.0h1.25M215.5 115.9h1.25M234.3 113.8h1.25M234.5 121.0h1.25M235.5 119.3h1.25M247.1 125.8h1.25M248.5 108.6h1.25M220.6 125.8h1.25M230.4 113.3h1.25M243.6 105.6h1.25M233.8 120.0h1.25M227.2 125.3h1.25M226.1 112.0h1.25M227.3 127.3h1.25M232.3 117.9h1.25M227.4 111.6h1.25M250.5 114.7h1.25M240.7 107.9h1.25M236.0 130.7h1.25M245.0 121.8h1.25M243.5 121.8h1.25M223.5 112.9h1.25M229.7 126.8h1.25M217.0 118.8h1.25M222.8 135.2h1.25M233.0 107.3h1.25M227.2 138.3h1.25M232.7 114.8h1.25M246.0 115.9h1.25M229.5 116.5h1.25M233.5 109.6h1.25M238.5 132.6h1.25M237.5 103.6h1.25M244.9 117.9h1.25M225.7 128.5h1.25M238.6 106.3h1.25M217.3 124.8h1.25M225.7 138.5h1.25M242.2 111.8h1.25M219.4 113.7h1.25M225.3 131.3h1.25M226.8 120.5h1.25M249.7 120.0h1.25M245.4 115.9h1.25M221.1 118.5h1.25M216.4 111.1h1.25M235.8 107.7h1.25M233.3 112.5h1.25M231.0 116.6h1.25M238.5 110.5h1.25M222.7 114.7h1.25M256.6 113.4h1.25M217.4 115.7h1.25M214.0 119.3h1.25M240.5 119.1h1.25M224.1 107.0h1.25M226.0 117.1h1.25M235.7 118.9h1.25M222.0 104.4h1.25M221.9 141.0h1.25M235.5 95.1h1.25M220.6 109.9h1.25M250.4 119.7h1.25M215.1 113.9h1.25M248.3 102.3h1.25M222.9 119.1h1.25M231.0 103.4h1.25M222.1 129.7h1.25M221.9 121.1h1.25M227.0 125.2h1.25M220.9 121.5h1.25M242.4 122.8h1.25M236.4 127.6h1.25M248.7 102.8h1.25M232.4 114.6h1.25M239.3 116.8h1.25M221.4 112.5h1.25M222.5 109.5h1.25M250.5 101.5h1.25M225.1 104.5h1.25M222.8 109.0h1.25M227.2 126.1h1.25M253.2 105.3h1.25M243.1 102.5h1.25M240.8 128.6h1.25M228.6 114.8h1.25M242.1 110.8h1.25M222.9 104.6h1.25M235.4 126.4h1.25M223.4 129.5h1.25M220.2 107.6h1.25M227.9 133.1h1.25M244.0 110.8h1.25M215.4 133.8h1.25M220.5 103.0h1.25M228.2 116.7h1.25M225.6 119.5h1.25M233.4 129.6h1.25M226.0 111.5h1.25M220.3 120.9h1.25M228.6 106.1h1.25M238.8 127.3h1.25M249.1 126.2h1.25M216.1 115.6h1.25M236.4 124.5h1.25M250.6 97.8h1.25M236.2 127.4h1.25M233.9 114.7h1.25M235.2 101.7h1.25M223.3 118.5h1.25M241.1 108.3h1.25M227.3 128.0h1.25M230.3 128.4h1.25M242.1 118.2h1.25M251.7 121.3h1.25M243.0 110.7h1.25M243.1 104.8h1.25M225.2 110.2h1.25M235.8 128.3h1.25M221.3 104.4h1.25M218.7 110.9h1.25M216.5 121.4h1.25M228.3 120.1h1.25M224.2 105.6h1.25M240.9 114.4h1.25M230.8 125.5h1.25M217.1 115.0h1.25M224.0 118.1h1.25M214.9 123.0h1.25M251.3 104.8h1.25M235.2 108.3h1.25M218.4 107.1h1.25M236.4 101.3h1.25M216.4 118.3h1.25M228.6 132.8h1.25M224.6 104.0h1.25M244.3 131.2h1.25M216.0 115.2h1.25M217.2 106.6h1.25M226.5 127.5h1.25M238.5 134.3h1.25M222.7 105.0h1.25M250.7 105.9h1.25M226.0 108.3h1.25M217.1 111.9h1.25M219.9 123.7h1.25M214.8 122.5h1.25M227.0 112.3h1.25M233.2 113.0h1.25M214.0 119.6h1.25M223.5 116.8h1.25M229.8 137.6h1.25M237.5 129.2h1.25M229.8 113.8h1.25M233.9 127.1h1.25M219.3 136.2h1.25M227.4 111.2h1.25M239.0 128.3h1.25M231.5 112.9h1.25M232.4 130.8h1.25M220.5 106.3h1.25M238.9 102.4h1.25M231.7 110.2h1.25M223.5 107.4h1.25M217.7 119.2h1.25M220.1 113.0h1.25M242.2 127.2h1.25M246.5 126.0h1.25M232.6 104.6h1.25M248.0 119.7h1.25M246.8 117.6h1.25M236.6 133.6h1.25M228.9 103.7h1.25M234.6 94.3h1.25M224.5 128.7h1.25M223.0 105.2h1.25M231.4 105.2h1.25M223.1 114.5h1.25M247.0 107.6h1.25M226.8 129.5h1.25M227.3 125.8h1.25M237.5 109.5h1.25M232.8 128.3h1.25M238.3 119.3h1.25M218.5 142.1h1.25M219.7 133.1h1.25M258.1 112.5h1.25M228.8 115.1h1.25M226.6 109.6h1.25M230.5 118.7h1.25M237.8 117.9h1.25M218.8 124.2h1.25M231.6 118.3h1.25M228.9 104.2h1.25M235.0 110.2h1.25M230.6 130.3h1.25M224.5 128.0h1.25M221.6 116.0h1.25M237.6 116.0h1.25M216.4 117.7h1.25M225.6 102.3h1.25M243.6 125.6h1.25M225.5 111.5h1.25M234.4 118.8h1.25M227.3 94.6h1.25M235.2 119.6h1.25M229.4 129.6h1.25M224.7 97.2h1.25M240.8 131.3h1.25M226.8 121.8h1.25M217.5 110.9h1.25M226.3 103.1h1.25M233.8 128.0h1.25M219.5 119.9h1.25M235.9 122.9h1.25M235.8 115.0h1.25M247.5 110.3h1.25M223.6 125.4h1.25M234.9 108.8h1.25M214.7 125.7h1.25M225.5 102.3h1.25M230.0 109.1h1.25M232.7 104.3h1.25M228.7 129.4h1.25M228.3 101.6h1.25M223.8 107.2h1.25M225.3 123.5h1.25M231.8 119.6h1.25M234.0 137.4h1.25M234.7 134.2h1.25M237.7 123.1h1.25M239.4 123.8h1.25M213.6 100.9h1.25M224.6 109.5h1.25M227.7 114.5h1.25M223.6 115.9h1.25M238.2 105.0h1.25M235.6 109.0h1.25M228.2 109.8h1.25M230.2 127.2h1.25M240.0 121.4h1.25M226.1 114.5h1.25M226.4 115.0h1.25M237.0 120.1h1.25M233.2 111.2h1.25M241.4 115.1h1.25M232.3 101.9h1.25M235.6 123.6h1.25M224.4 126.2h1.25M221.0 120.8h1.25M229.1 121.8h1.25M232.7 136.0h1.25M237.5 119.3h1.25M229.8 105.5h1.25M227.2 108.0h1.25M238.5 124.0h1.25M228.8 127.2h1.25M237.6 124.5h1.25M248.0 125.1h1.25M235.4 119.2h1.25M237.2 104.0h1.25M233.4 111.0h1.25M231.3 101.0h1.25M231.5 114.0h1.25M229.7 105.1h1.25M238.5 118.4h1.25M215.2 115.9h1.25M226.8 99.7h1.25M234.8 124.1h1.25M221.9 124.4h1.25M228.2 104.8h1.25M223.2 118.8h1.25M232.9 124.0h1.25M236.6 114.8h1.25M241.7 125.3h1.25M233.5 119.2h1.25M223.0 127.2h1.25M231.3 119.1h1.25M234.0 115.9h1.25M241.3 122.1h1.25M232.3 119.7h1.25M213.4 113.3h1.25M235.3 110.2h1.25M233.0 114.0h1.25M233.4 112.2h1.25M236.8 119.3h1.25M232.5 119.0h1.25M223.6 116.6h1.25M232.2 117.4h1.25M239.5 119.0h1.25M228.1 131.7h1.25M229.4 128.4h1.25M218.7 112.1h1.25M239.1 121.2h1.25M224.8 114.4h1.25M222.8 116.5h1.25M225.3 115.1h1.25M221.7 111.7h1.25M227.0 104.9h1.25M240.1 94.8h1.25M236.0 119.2h1.25M241.4 128.2h1.25M241.9 109.1h1.25M221.4 122.0h1.25M233.3 113.8h1.25M242.0 119.9h1.25M248.9 110.0h1.25M217.0 115.2h1.25M216.9 116.3h1.25M233.2 95.6h1.25M226.3 119.3h1.25M220.6 116.1h1.25M232.4 94.6h1.25M222.4 123.3h1.25M228.9 119.2h1.25M230.2 120.6h1.25M234.6 113.5h1.25M237.2 107.4h1.25M230.7 113.2h1.25M227.1 113.4h1.25M223.4 137.7h1.25M215.0 134.2h1.25M225.3 112.8h1.25M237.7 113.5h1.25M234.7 120.2h1.25M246.7 122.5h1.25M227.8 110.9h1.25M213.8 108.1h1.25M236.2 135.0h1.25M238.0 127.0h1.25M219.1 103.0h1.25M215.2 101.0h1.25M230.4 109.7h1.25M235.2 119.3h1.25M219.5 122.3h1.25M226.2 114.1h1.25M222.4 102.4h1.25M218.9 119.3h1.25M217.8 122.8h1.25M230.3 117.2h1.25M225.9 112.7h1.25M223.3 122.5h1.25M244.1 106.9h1.25M221.0 118.1h1.25M227.9 105.3h1.25M219.3 126.1h1.25M232.3 121.5h1.25M216.1 108.0h1.25M229.9 119.2h1.25M227.4 128.8h1.25M236.9 97.4h1.25M219.6 115.9h1.25M223.5 132.4h1.25M227.0 102.9h1.25M247.0 115.7h1.25M216.4 104.0h1.25M231.5 116.6h1.25M223.4 95.0h1.25M231.7 102.2h1.25M234.6 112.2h1.25M230.2 118.5h1.25M231.3 120.7h1.25M231.4 121.2h1.25M224.0 127.9h1.25M227.1 123.7h1.25M214.8 124.1h1.25M226.0 108.1h1.25M222.4 115.8h1.25M226.8 146.8h1.25M235.3 138.3h1.25M232.3 124.9h1.25M233.0 124.1h1.25M238.5 126.4h1.25M232.7 135.4h1.25M228.8 113.7h1.25M228.1 116.5h1.25M217.7 137.5h1.25M233.7 97.8h1.25M238.8 120.6h1.25M237.8 101.2h1.25M228.2 111.1h1.25M234.4 116.4h1.25M236.9 113.9h1.25M244.6 118.8h1.25M239.5 110.1h1.25M230.2 116.3h1.25M229.8 106.1h1.25M230.4 113.6h1.25M230.9 104.3h1.25M224.7 123.3h1.25M235.6 105.1h1.25M223.0 123.7h1.25M222.1 113.3h1.25M232.0 114.4h1.25M224.0 128.3h1.25M226.8 118.2h1.25M235.8 121.9h1.25M228.9 90.0h1.25M227.8 119.7h1.25M232.9 113.5h1.25M230.7 104.1h1.25M222.9 118.0h1.25M246.2 114.3h1.25M225.1 136.0h1.25M237.3 113.1h1.25M244.6 135.4h1.25M223.6 130.2h1.25M229.7 111.5h1.25M221.9 109.5h1.25M237.9 129.6h1.25M237.6 168.7h1.25M232.7 159.3h1.25M229.4 166.1h1.25M245.4 168.3h1.25M248.4 161.0h1.25M236.1 151.0h1.25M249.1 149.4h1.25M243.3 158.3h1.25M217.8 154.7h1.25M219.2 157.3h1.25M258.0 163.2h1.25M238.7 168.5h1.25M242.6 134.5h1.25M218.7 149.8h1.25M237.6 145.8h1.25M229.6 144.1h1.25M237.7 154.8h1.25M231.4 137.8h1.25M242.4 157.3h1.25M217.9 141.6h1.25M232.9 155.0h1.25M240.2 133.0h1.25M245.7 151.0h1.25M222.0 151.5h1.25M218.7 157.6h1.25M241.7 153.9h1.25M222.3 146.4h1.25M217.1 134.3h1.25M242.6 142.8h1.25M251.5 136.0h1.25M249.1 163.0h1.25M243.5 170.1h1.25M219.3 148.1h1.25M233.4 130.9h1.25M244.2 164.9h1.25M225.3 157.8h1.25M220.7 145.4h1.25M245.3 143.9h1.25M224.3 166.5h1.25M223.0 165.3h1.25M239.7 169.7h1.25M217.0 155.5h1.25M228.1 131.5h1.25M225.4 152.7h1.25M234.0 145.3h1.25M222.2 137.5h1.25M232.1 167.0h1.25M244.0 143.2h1.25M230.5 158.3h1.25M242.5 162.7h1.25M231.0 140.0h1.25M226.5 153.1h1.25M219.5 157.6h1.25M244.3 163.7h1.25M228.6 148.9h1.25M242.1 146.9h1.25M226.9 148.5h1.25M231.6 169.4h1.25M239.1 147.2h1.25M234.5 142.6h1.25M232.7 148.4h1.25M219.2 163.5h1.25M226.1 148.4h1.25M226.5 162.2h1.25M230.6 160.6h1.25M222.1 148.3h1.25M237.9 150.0h1.25M222.9 162.4h1.25M241.8 140.7h1.25M246.9 149.4h1.25M233.3 161.7h1.25M232.9 157.5h1.25M225.4 162.2h1.25M255.2 156.3h1.25M245.9 127.1h1.25M222.8 156.3h1.25M221.6 146.0h1.25M236.9 146.0h1.25M258.2 139.9h1.25M248.0 139.2h1.25M232.4 164.1h1.25M230.2 160.7h1.25M232.3 170.7h1.25M227.5 163.5h1.25M237.4 141.1h1.25M225.1 157.9h1.25M240.3 155.9h1.25M244.3 169.2h1.25M233.7 131.1h1.25M239.7 157.3h1.25M251.5 156.7h1.25M230.9 134.8h1.25M238.3 152.1h1.25M230.7 156.6h1.25M245.2 143.8h1.25M222.5 154.9h1.25M245.3 145.2h1.25M225.0 158.8h1.25M240.1 161.7h1.25M218.1 144.0h1.25M219.6 171.7h1.25M230.9 147.2h1.25M225.5 166.4h1.25M221.3 149.2h1.25M220.6 149.5h1.25M229.7 149.2h1.25M232.3 155.5h1.25M233.1 151.2h1.25M238.1 166.5h1.25M235.8 139.3h1.25M236.8 170.4h1.25M242.2 167.7h1.25M254.5 152.8h1.25M220.4 154.2h1.25M235.0 160.9h1.25M222.0 146.6h1.25M231.4 168.5h1.25M221.7 161.1h1.25M234.5 143.2h1.25M239.5 142.6h1.25M247.7 163.5h1.25M239.8 141.6h1.25M232.9 141.7h1.25M249.9 145.6h1.25M233.7 170.4h1.25M239.3 151.9h1.25M241.6 148.3h1.25M230.7 139.4h1.25M230.4 152.8h1.25M234.6 154.4h1.25M240.4 144.0h1.25M242.4 146.0h1.25M231.9 160.4h1.25M239.8 159.9h1.25M238.8 155.5h1.25M235.1 158.7h1.25M238.2 146.6h1.25M241.6 129.3h1.25M238.7 150.0h1.25M217.4 159.7h1.25M235.4 153.6h1.25M225.1 167.1h1.25M221.8 158.1h1.25M242.9 147.2h1.25M235.9 146.3h1.25M217.6 151.5h1.25M237.7 157.3h1.25M238.1 143.6h1.25M244.7 151.1h1.25M243.2 152.8h1.25M217.2 154.7h1.25M241.1 148.9h1.25M222.9 174.1h1.25M217.8 150.9h1.25M245.3 142.6h1.25M216.1 138.3h1.25M247.8 136.6h1.25M245.1 142.7h1.25M245.5 155.9h1.25M242.9 156.8h1.25M232.2 143.3h1.25M233.3 160.1h1.25M219.6 145.8h1.25M227.1 165.8h1.25M229.2 167.7h1.25M255.9 138.9h1.25M243.8 158.8h1.25M219.3 165.2h1.25M238.6 173.9h1.25M227.0 167.7h1.25M239.3 140.9h1.25M242.8 135.9h1.25M217.7 145.1h1.25M215.5 143.3h1.25M243.5 158.0h1.25M225.7 151.2h1.25M230.2 136.0h1.25M248.6 150.3h1.25M235.5 151.4h1.25M239.9 144.5h1.25M240.2 143.3h1.25M234.1 137.0h1.25M247.8 139.7h1.25M244.4 169.5h1.25M222.1 136.6h1.25M217.4 154.6h1.25M244.2 143.9h1.25M218.3 172.8h1.25M223.5 166.4h1.25M224.0 148.4h1.25M245.7 153.4h1.25M231.3 144.8h1.25M230.1 132.7h1.25M226.3 155.1h1.25M222.6 160.3h1.25M253.0 151.3h1.25M221.6 165.9h1.25M247.6 167.3h1.25M240.3 129.5h1.25M244.3 156.8h1.25M225.2 169.7h1.25M222.4 140.2h1.25M240.2 136.3h1.25M237.4 152.2h1.25M224.5 127.9h1.25M242.6 164.4h1.25M230.4 134.9h1.25M242.8 146.7h1.25M220.5 172.6h1.25M234.1 154.6h1.25M255.7 147.2h1.25M237.6 159.1h1.25M234.3 157.9h1.25M229.7 158.5h1.25M239.9 154.0h1.25M248.1 167.0h1.25M228.5 163.6h1.25M239.8 138.0h1.25M245.4 170.0h1.25M226.4 161.5h1.25M221.5 137.1h1.25M220.1 161.0h1.25M237.9 135.8h1.25M244.3 167.5h1.25M233.9 132.9h1.25M230.3 152.6h1.25M218.8 163.0h1.25M244.0 134.6h1.25M222.8 133.1h1.25M241.0 154.5h1.25M237.1 139.5h1.25M216.2 161.9h1.25M244.4 162.1h1.25M229.0 166.5h1.25M256.0 157.3h1.25M227.1 146.0h1.25M242.1 132.5h1.25M244.9 158.0h1.25M215.5 154.6h1.25M246.9 131.7h1.25M228.7 132.6h1.25M221.3 154.1h1.25M237.0 151.1h1.25M242.2 164.7h1.25M228.3 155.6h1.25M225.4 169.2h1.25M222.0 165.5h1.25M216.8 161.1h1.25M255.0 162.3h1.25M221.3 151.0h1.25M218.4 142.3h1.25M227.1 146.4h1.25M259.3 149.5h1.25M228.2 135.3h1.25M224.5 163.2h1.25M231.2 151.9h1.25M217.8 166.1h1.25M238.9 145.4h1.25M226.1 158.0h1.25M224.1 146.0h1.25M242.8 149.2h1.25M230.0 163.5h1.25M216.3 154.6h1.25M231.5 125.8h1.25M221.4 171.2h1.25M260.7 163.3h1.25M215.8 152.8h1.25M217.5 150.8h1.25M251.6 148.3h1.25M224.6 143.1h1.25M241.3 161.7h1.25M230.1 141.3h1.25M237.9 167.1h1.25M237.6 160.6h1.25M259.1 141.3h1.25M223.2 161.9h1.25M234.7 168.5h1.25M235.6 146.9h1.25M234.7 168.8h1.25M242.6 138.2h1.25M246.6 146.5h1.25M225.0 135.0h1.25M214.7 170.9h1.25M222.3 147.5h1.25M243.5 159.8h1.25M233.6 157.5h1.25M229.3 161.7h1.25M240.5 171.8h1.25M244.3 155.1h1.25M237.8 146.7h1.25M236.5 170.4h1.25M235.6 152.7h1.25M239.0 148.6h1.25M258.3 154.0h1.25M231.1 137.0h1.25M235.9 165.6h1.25M232.4 155.5h1.25M237.8 152.8h1.25M238.0 154.2h1.25M247.5 172.2h1.25M229.2 140.1h1.25M231.5 133.9h1.25M259.8 132.5h1.25M231.2 154.9h1.25M220.7 148.2h1.25M219.8 143.7h1.25M238.0 169.7h1.25M224.2 139.9h1.25M235.7 135.8h1.25M242.4 129.6h1.25M242.3 141.3h1.25M226.6 155.0h1.25M238.6 172.2h1.25M241.2 129.8h1.25M246.7 163.1h1.25M218.3 167.9h1.25M229.9 174.0h1.25M227.6 137.8h1.25M236.7 147.2h1.25M246.4 145.0h1.25M237.0 141.8h1.25M227.1 165.6h1.25M243.4 137.0h1.25M240.6 165.8h1.25M240.5 155.0h1.25M232.5 164.9h1.25M227.1 140.6h1.25M240.8 151.3h1.25M286.4 97.6h1.25M259.7 105.6h1.25M284.8 117.2h1.25M290.9 109.7h1.25M274.2 100.5h1.25M261.9 136.5h1.25M277.5 115.2h1.25M269.3 111.7h1.25M294.8 104.9h1.25M277.9 112.0h1.25M276.1 103.8h1.25M268.7 97.8h1.25M278.1 101.9h1.25M287.5 104.2h1.25M286.2 102.5h1.25M262.6 109.4h1.25M274.1 119.0h1.25M265.5 105.2h1.25M282.0 113.3h1.25M266.7 110.1h1.25M284.8 106.3h1.25M292.9 95.2h1.25M269.6 113.1h1.25M267.6 107.0h1.25M260.1 100.2h1.25M277.2 109.2h1.25M267.5 113.7h1.25M272.5 118.7h1.25M284.0 107.9h1.25M263.2 106.5h1.25M297.7 96.0h1.25M273.9 90.5h1.25M277.7 100.4h1.25M262.1 129.8h1.25M281.6 118.1h1.25M259.6 126.0h1.25M273.1 114.0h1.25M264.6 121.3h1.25M269.6 117.5h1.25M279.6 95.2h1.25M259.7 109.2h1.25M273.7 120.9h1.25M290.9 109.5h1.25M263.4 118.6h1.25M277.7 106.7h1.25M288.4 101.3h1.25M261.0 112.0h1.25M284.9 99.2h1.25M273.2 95.2h1.25M293.4 102.1h1.25M282.3 103.6h1.25M276.5 108.0h1.25M280.4 120.4h1.25M294.3 104.0h1.25M262.8 109.7h1.25M282.8 110.6h1.25M276.4 97.8h1.25M263.4 126.5h1.25M266.1 117.4h1.25M268.7 111.8h1.25M279.8 112.3h1.25M271.0 125.1h1.25M286.5 101.6h1.25M270.5 104.1h1.25M287.2 117.9h1.25M260.3 118.0h1.25M259.8 133.3h1.25M271.0 106.6h1.25M277.7 112.0h1.25M273.8 105.7h1.25M281.7 111.6h1.25M266.5 112.1h1.25M279.5 103.1h1.25M267.9 128.2h1.25M281.2 109.8h1.25M270.1 95.0h1.25M261.8 114.7h1.25M281.6 100.5h1.25M260.0 105.5h1.25M266.2 109.4h1.25M286.3 101.6h1.25M295.8 100.2h1.25M272.1 105.1h1.25M278.4 94.4h1.25M284.2 102.1h1.25M294.2 105.6h1.25M260.2 103.9h1.25M262.9 122.6h1.25M289.7 105.9h1.25M286.3 101.8h1.25M267.5 117.0h1.25M293.2 97.1h1.25M291.0 100.0h1.25M282.4 99.4h1.25M265.6 119.5h1.25M284.6 115.0h1.25M291.7 98.1h1.25M273.5 121.2h1.25M262.6 95.5h1.25M273.9 103.6h1.25M279.4 100.6h1.25M259.4 136.0h1.25M259.2 112.2h1.25M275.6 116.4h1.25M279.8 92.6h1.25M285.0 106.2h1.25M280.8 111.7h1.25M275.7 109.7h1.25M269.4 88.8h1.25M286.7 105.7h1.25M270.4 119.9h1.25M277.2 119.7h1.25M282.8 109.3h1.25M261.8 100.1h1.25M260.0 115.8h1.25M289.4 108.8h1.25M270.1 105.6h1.25M265.6 120.5h1.25M277.1 105.6h1.25M276.9 110.2h1.25M263.0 123.9h1.25M272.7 105.5h1.25M277.0 132.1h1.25M270.4 114.0h1.25M274.1 113.7h1.25M269.2 106.6h1.25M265.5 115.7h1.25M297.2 97.9h1.25M261.1 102.6h1.25M278.2 96.9h1.25M270.0 115.4h1.25M278.5 108.0h1.25M276.2 88.6h1.25M269.1 94.0h1.25M294.6 98.9h1.25M284.1 105.4h1.25M268.3 119.3h1.25M295.9 93.4h1.25M269.9 118.3h1.25M265.8 112.1h1.25M264.6 110.7h1.25M282.5 105.6h1.25M275.8 118.0h1.25M288.8 107.0h1.25M277.5 116.1h1.25M270.9 106.4h1.25M259.3 115.3h1.25M275.3 100.7h1.25M297.8 96.2h1.25M271.7 108.6h1.25M281.7 103.7h1.25M283.2 111.4h1.25M291.7 104.5h1.25M263.9 123.4h1.25M278.1 109.9h1.25M277.4 117.6h1.25M272.0 112.9h1.25M267.8 122.9h1.25M266.1 119.6h1.25M283.1 111.5h1.25M286.7 104.1h1.25M265.9 103.2h1.25M264.7 101.6h1.25M283.2 120.2h1.25M269.4 116.7h1.25M261.2 121.8h1.25M272.4 110.3h1.25M264.9 111.0h1.25M274.2 134.8h1.25M266.5 104.1h1.25M280.8 107.0h1.25M264.0 115.4h1.25M275.0 101.1h1.25M272.0 100.9h1.25M277.6 103.6h1.25M281.2 104.8h1.25M270.6 108.3h1.25M262.2 125.0h1.25M261.0 105.4h1.25M293.6 103.4h1.25M264.3 130.1h1.25M287.0 110.2h1.25M266.0 104.1h1.25M276.9 85.9h1.25M271.7 119.4h1.25M271.3 116.6h1.25M262.5 110.8h1.25M275.9 120.3h1.25M282.5 103.7h1.25M279.3 109.1h1.25M276.7 101.3h1.25M263.2 119.5h1.25M271.8 108.3h1.25M278.9 104.6h1.25M270.8 122.0h1.25M282.7 108.1h1.25M279.5 96.8h1.25M279.2 113.6h1.25M294.6 105.2h1.25M264.3 107.7h1.25M274.2 107.5h1.25M271.5 112.6h1.25M274.4 108.6h1.25M294.8 101.2h1.25M283.6 110.7h1.25M269.3 108.8h1.25M265.6 135.0h1.25M269.6 106.7h1.25M285.2 101.6h1.25M263.1 135.9h1.25M269.7 134.4h1.25M270.1 113.2h1.25M274.2 109.2h1.25M282.4 99.0h1.25M292.1 108.5h1.25M265.2 117.0h1.25M288.8 98.2h1.25M272.8 115.0h1.25M292.5 109.6h1.25M293.3 105.1h1.25M290.6 115.9h1.25M264.2 127.1h1.25M267.2 118.4h1.25M285.1 105.1h1.25M261.1 123.0h1.25M289.5 110.7h1.25M275.0 117.4h1.25M264.4 125.9h1.25M274.2 112.7h1.25M287.5 109.1h1.25M276.7 119.3h1.25M262.2 115.1h1.25M293.6 93.8h1.25M296.0 109.0h1.25M265.3 120.9h1.25M269.9 109.0h1.25M274.9 112.4h1.25M264.7 113.1h1.25M263.4 99.4h1.25M293.5 100.1h1.25M274.4 98.9h1.25M264.1 117.8h1.25M266.3 113.7h1.25M285.2 113.0h1.25M286.0 104.1h1.25M262.4 120.5h1.25M266.5 111.9h1.25M259.0 114.4h1.25M269.7 100.5h1.25M292.8 107.2h1.25M300.6 96.9h1.25M301.7 100.2h1.25M307.1 94.8h1.25M307.8 99.1h1.25M318.5 98.0h1.25M306.5 112.0h1.25M317.9 123.9h1.25M305.6 129.3h1.25M294.6 135.7h1.25M276.9 144.8h1.25M269.0 155.8h1.25" stroke="#111" stroke-width="1.25" fill="none"/>
<path d="M211.9 37.3H344.2V175.3" fill="none" stroke="#3a3a3a" stroke-width="1"/>
<path d="M211.9 36.8V175.3H344.7" fill="none" stroke="#111" stroke-width="1.4"/>
<path d="M258.3 37.3V175.3M211.9 141.0H344.2" stroke="#1a1a1a" stroke-width="1.3" fill="none"/>
<path d="M211.9 175.3v4.2M211.9 175.3h-4M221.9 175.3v2.4M211.9 164.9h-2.5M227.7 175.3v2.4M211.9 158.8h-2.5M231.8 175.3v2.4M211.9 154.5h-2.5M235.0 175.3v2.4M211.9 151.2h-2.5M237.6 175.3v2.4M211.9 148.5h-2.5M239.9 175.3v2.4M211.9 146.1h-2.5M241.8 175.3v2.4M211.9 144.1h-2.5M243.5 175.3v2.4M211.9 142.4h-2.5M245.0 175.3v4.2M211.9 140.8h-4M254.9 175.3v2.4M211.9 130.4h-2.5M260.8 175.3v2.4M211.9 124.3h-2.5M264.9 175.3v2.4M211.9 120.0h-2.5M268.1 175.3v2.4M211.9 116.7h-2.5M270.7 175.3v2.4M211.9 114.0h-2.5M272.9 175.3v2.4M211.9 111.6h-2.5M274.8 175.3v2.4M211.9 109.6h-2.5M276.5 175.3v2.4M211.9 107.9h-2.5M278.1 175.3v4.2M211.9 106.3h-4M288.0 175.3v2.4M211.9 95.9h-2.5M293.8 175.3v2.4M211.9 89.8h-2.5M298.0 175.3v2.4M211.9 85.5h-2.5M301.2 175.3v2.4M211.9 82.2h-2.5M303.8 175.3v2.4M211.9 79.5h-2.5M306.0 175.3v2.4M211.9 77.1h-2.5M307.9 175.3v2.4M211.9 75.1h-2.5M309.6 175.3v2.4M211.9 73.4h-2.5M311.1 175.3v4.2M211.9 71.8h-4M321.1 175.3v2.4M211.9 61.4h-2.5M326.9 175.3v2.4M211.9 55.3h-2.5M331.0 175.3v2.4M211.9 51.0h-2.5M334.2 175.3v2.4M211.9 47.7h-2.5M336.9 175.3v2.4M211.9 45.0h-2.5M339.1 175.3v2.4M211.9 42.6h-2.5M341.0 175.3v2.4M211.9 40.6h-2.5M342.7 175.3v2.4M211.9 38.9h-2.5M344.2 175.3v4.2M211.9 37.3h-4" stroke="#222" stroke-width="1" fill="none"/>
<text class="tk" x="204.5" y="190.7">10<tspan font-size="6.5" dy="-3.5" stroke-width=".2">0</tspan></text>
<text class="tk" x="192.3" y="178.7">10<tspan font-size="6.5" dy="-3.5" stroke-width=".2">0</tspan></text>
<text class="tk" x="237.6" y="190.7">10<tspan font-size="6.5" dy="-3.5" stroke-width=".2">1</tspan></text>
<text class="tk" x="192.3" y="144.2">10<tspan font-size="6.5" dy="-3.5" stroke-width=".2">1</tspan></text>
<text class="tk" x="270.7" y="190.7">10<tspan font-size="6.5" dy="-3.5" stroke-width=".2">2</tspan></text>
<text class="tk" x="192.3" y="109.7">10<tspan font-size="6.5" dy="-3.5" stroke-width=".2">2</tspan></text>
<text class="tk" x="303.7" y="190.7">10<tspan font-size="6.5" dy="-3.5" stroke-width=".2">3</tspan></text>
<text class="tk" x="192.3" y="75.2">10<tspan font-size="6.5" dy="-3.5" stroke-width=".2">3</tspan></text>
<text class="tk" x="336.8" y="190.7">10<tspan font-size="6.5" dy="-3.5" stroke-width=".2">4</tspan></text>
<text class="tk" x="192.3" y="40.7">10<tspan font-size="6.5" dy="-3.5" stroke-width=".2">4</tspan></text>
<text class="pc" x="220.6" y="52.6">77%</text>
<text class="pc" x="344.0" y="52.6" text-anchor="end">9%</text>
<text class="pc" x="344.0" y="171.7" text-anchor="end">0.5%</text>
<text class="ax" x="268.5" y="209.7" text-anchor="middle" letter-spacing="-.3">HLA DR</text>
<path d="M415.0 120.7h1.25M405.8 102.0h1.25M410.2 116.3h1.25M414.7 121.1h1.25M402.0 101.0h1.25M391.0 104.6h1.25M389.2 129.4h1.25M414.7 108.4h1.25M393.9 132.9h1.25M387.2 115.0h1.25M386.9 103.4h1.25M413.8 108.8h1.25M404.9 100.9h1.25M387.2 124.5h1.25M395.9 104.8h1.25M412.1 122.2h1.25M397.4 108.4h1.25M389.1 102.2h1.25M405.1 126.4h1.25M400.3 105.9h1.25M409.2 112.9h1.25M398.6 93.5h1.25M402.9 124.2h1.25M391.5 109.4h1.25M407.7 102.9h1.25M389.1 114.9h1.25M406.2 111.8h1.25M409.3 111.2h1.25M388.8 101.4h1.25M400.6 111.8h1.25M393.1 95.9h1.25M380.9 107.3h1.25M402.0 107.9h1.25M397.7 104.6h1.25M412.7 97.3h1.25M417.5 116.1h1.25M407.8 125.1h1.25M383.3 108.0h1.25M401.0 109.9h1.25M387.6 121.7h1.25M393.9 138.4h1.25M412.2 120.8h1.25M383.0 100.8h1.25M425.9 117.4h1.25M385.8 112.2h1.25M408.0 122.0h1.25M393.3 104.5h1.25M381.4 125.1h1.25M407.2 107.1h1.25M388.8 96.5h1.25M395.1 99.8h1.25M389.0 112.3h1.25M416.1 99.6h1.25M398.6 100.7h1.25M388.0 129.2h1.25M391.6 123.4h1.25M386.7 111.8h1.25M404.5 124.9h1.25M403.2 122.7h1.25M393.0 92.4h1.25M388.7 110.2h1.25M403.4 121.8h1.25M397.1 136.3h1.25M412.2 111.8h1.25M402.4 110.0h1.25M402.8 107.9h1.25M407.5 107.2h1.25M398.7 110.6h1.25M386.0 100.3h1.25M381.7 98.5h1.25M397.9 129.7h1.25M380.7 123.5h1.25M403.2 131.0h1.25M413.3 102.4h1.25M394.5 131.2h1.25M404.3 97.4h1.25M390.8 129.9h1.25M402.8 105.3h1.25M404.9 122.3h1.25M379.1 132.9h1.25M383.5 120.5h1.25M405.3 99.3h1.25M406.9 115.5h1.25M399.8 118.0h1.25M381.7 109.3h1.25M421.8 122.6h1.25M401.9 131.1h1.25M379.0 127.7h1.25M397.4 115.7h1.25M396.1 113.9h1.25M387.5 103.1h1.25M384.6 118.7h1.25M390.6 120.1h1.25M387.1 127.7h1.25M394.5 140.6h1.25M378.7 111.1h1.25M392.9 110.2h1.25M417.2 116.4h1.25M405.8 117.0h1.25M397.6 109.4h1.25M413.5 97.2h1.25M389.9 123.8h1.25M403.2 127.1h1.25M390.4 118.5h1.25M388.7 110.0h1.25M395.3 121.6h1.25M401.5 101.0h1.25M405.2 101.1h1.25M398.3 134.2h1.25M398.9 134.9h1.25M395.9 115.7h1.25M393.2 117.0h1.25M392.3 120.1h1.25M393.8 110.3h1.25M390.2 115.9h1.25M407.0 119.3h1.25M394.8 117.9h1.25M389.0 124.0h1.25M402.0 103.3h1.25M400.3 118.2h1.25M395.9 131.9h1.25M402.9 100.7h1.25M403.0 118.3h1.25M389.9 112.2h1.25M392.5 127.0h1.25M386.2 97.0h1.25M392.6 116.7h1.25M405.8 108.2h1.25M395.3 121.9h1.25M387.4 104.7h1.25M382.1 102.0h1.25M381.2 122.4h1.25M381.6 119.2h1.25M405.6 123.0h1.25M384.1 109.5h1.25M390.3 112.1h1.25M417.6 115.6h1.25M391.0 136.2h1.25M402.8 120.7h1.25M381.3 119.5h1.25M382.8 100.7h1.25M398.5 112.9h1.25M407.3 106.8h1.25M414.5 114.2h1.25M385.8 102.5h1.25M391.2 101.2h1.25M390.2 133.4h1.25M401.0 113.3h1.25M402.6 108.3h1.25M405.0 97.5h1.25M387.5 123.0h1.25M392.2 89.8h1.25M405.8 129.7h1.25M393.5 104.4h1.25M386.4 129.1h1.25M392.2 127.8h1.25M386.7 135.6h1.25M406.7 121.6h1.25M390.6 118.3h1.25M379.9 116.7h1.25M406.4 95.2h1.25M407.0 117.8h1.25M377.6 122.2h1.25M421.7 102.6h1.25M378.9 135.3h1.25M415.1 131.3h1.25M403.8 91.3h1.25M402.6 125.5h1.25M388.1 85.6h1.25M384.2 118.1h1.25M401.1 106.5h1.25M380.0 105.6h1.25M402.2 127.8h1.25M404.6 110.8h1.25M408.0 133.9h1.25M414.3 95.7h1.25M389.0 105.9h1.25M383.9 116.1h1.25M379.2 132.5h1.25M394.5 118.9h1.25M395.5 104.6h1.25M402.1 123.2h1.25M392.2 122.0h1.25M401.3 107.6h1.25M397.7 131.1h1.25M396.4 122.9h1.25M378.4 94.8h1.25M385.5 102.3h1.25M407.4 127.7h1.25M397.0 106.5h1.25M401.6 105.9h1.25M390.9 96.7h1.25M423.6 98.2h1.25M408.1 114.4h1.25M404.8 131.6h1.25M405.8 96.4h1.25M407.6 109.4h1.25M390.1 100.7h1.25M405.8 131.9h1.25M409.8 109.0h1.25M399.5 112.6h1.25M397.3 128.5h1.25M383.5 133.6h1.25M398.0 105.5h1.25M403.3 130.1h1.25M407.9 101.1h1.25M383.0 105.7h1.25M390.8 113.2h1.25M419.9 92.8h1.25M403.6 120.6h1.25M387.8 103.6h1.25M405.0 128.4h1.25M389.0 127.0h1.25M402.0 129.1h1.25M400.8 111.8h1.25M400.2 102.0h1.25M388.2 112.1h1.25M403.5 140.5h1.25M399.7 127.8h1.25M380.4 111.3h1.25M400.2 116.5h1.25M398.7 107.7h1.25M417.3 107.9h1.25M382.1 133.1h1.25M392.1 102.9h1.25M385.2 108.1h1.25M386.4 122.3h1.25M403.8 128.5h1.25M395.0 103.1h1.25M391.5 121.1h1.25M386.6 139.0h1.25M396.5 108.7h1.25M383.7 121.6h1.25M392.9 117.4h1.25M392.4 92.9h1.25M400.5 106.4h1.25M386.7 109.0h1.25M394.2 134.8h1.25M408.4 114.9h1.25M389.9 103.8h1.25M380.5 110.1h1.25M387.2 109.0h1.25M405.8 90.2h1.25M391.4 99.0h1.25M380.7 120.8h1.25M386.0 119.6h1.25M400.2 84.5h1.25M415.1 103.6h1.25M409.1 132.4h1.25M391.0 104.1h1.25M399.3 114.1h1.25M403.3 95.8h1.25M385.4 110.5h1.25M384.5 128.4h1.25M420.4 113.6h1.25M404.5 107.4h1.25M395.9 120.1h1.25M383.3 97.6h1.25M405.2 91.1h1.25M386.8 110.7h1.25M396.2 128.7h1.25M413.2 108.3h1.25M406.4 105.0h1.25M390.3 131.0h1.25M384.9 127.4h1.25M405.3 131.3h1.25M388.8 122.4h1.25M413.6 106.7h1.25M392.8 102.6h1.25M377.6 105.5h1.25M394.8 117.6h1.25M379.8 108.8h1.25M382.3 117.5h1.25M394.2 106.4h1.25M398.8 120.0h1.25M397.0 123.6h1.25M394.5 100.5h1.25M392.7 106.9h1.25M394.9 116.2h1.25M408.8 118.9h1.25M411.5 115.3h1.25M395.7 119.0h1.25M409.4 109.9h1.25M395.2 117.8h1.25M389.7 113.6h1.25M386.7 123.0h1.25M399.7 136.4h1.25M413.4 118.5h1.25M396.3 137.7h1.25M409.6 107.6h1.25M387.9 126.0h1.25M397.0 131.3h1.25M408.4 124.0h1.25M385.3 99.8h1.25M405.6 95.0h1.25M395.4 121.6h1.25M407.8 85.6h1.25M413.2 121.9h1.25M402.6 124.2h1.25M396.1 106.5h1.25M403.9 119.6h1.25M392.7 116.6h1.25M383.8 117.5h1.25M427.4 107.7h1.25M395.2 101.6h1.25M395.0 107.1h1.25M399.9 95.0h1.25M392.3 95.5h1.25M397.6 128.5h1.25M384.1 88.3h1.25M379.1 110.0h1.25M390.2 114.9h1.25M402.3 103.5h1.25M385.0 128.6h1.25M392.3 106.4h1.25M393.9 112.6h1.25M398.0 124.5h1.25M400.0 109.0h1.25M404.6 107.7h1.25M389.4 77.3h1.25M405.6 114.3h1.25M395.8 128.3h1.25M389.8 99.1h1.25M413.2 117.2h1.25M396.7 103.3h1.25M382.9 102.1h1.25M410.0 118.2h1.25M403.6 123.4h1.25M398.6 95.7h1.25M397.6 132.1h1.25M384.4 111.6h1.25M385.5 90.2h1.25M393.0 111.5h1.25M399.6 105.8h1.25M386.5 97.0h1.25M397.2 130.7h1.25M379.7 112.2h1.25M390.7 96.3h1.25M401.9 110.5h1.25M404.3 108.3h1.25M389.3 115.4h1.25M407.7 105.4h1.25M396.3 104.0h1.25M403.6 118.8h1.25M398.9 110.4h1.25M405.4 107.3h1.25M398.3 136.4h1.25M420.5 114.2h1.25M416.7 118.1h1.25M396.5 91.2h1.25M385.2 109.4h1.25M386.3 122.2h1.25M403.4 117.4h1.25M382.5 95.1h1.25M416.7 128.3h1.25M386.6 98.5h1.25M391.7 122.0h1.25M410.1 136.3h1.25M381.0 118.2h1.25M406.4 98.5h1.25M399.0 107.0h1.25M382.5 119.5h1.25M416.9 102.3h1.25M384.0 105.4h1.25M383.9 133.3h1.25M406.0 130.1h1.25M385.4 99.8h1.25M397.7 131.0h1.25M381.8 119.3h1.25M387.9 119.3h1.25M377.5 105.8h1.25M400.0 121.8h1.25M391.3 127.9h1.25M387.4 114.8h1.25M396.7 117.3h1.25M397.8 101.5h1.25M399.8 113.1h1.25M387.8 124.1h1.25M378.4 113.1h1.25M412.1 105.8h1.25M407.4 133.9h1.25M398.3 99.7h1.25M411.4 138.0h1.25M401.4 107.7h1.25M394.1 120.8h1.25M393.7 126.5h1.25M383.7 105.2h1.25M391.0 136.9h1.25M396.4 107.1h1.25M407.6 113.8h1.25M402.0 86.4h1.25M407.3 106.9h1.25M411.4 132.7h1.25M390.8 107.1h1.25M380.8 137.3h1.25M383.7 125.0h1.25M407.3 94.0h1.25M394.0 103.0h1.25M395.3 115.8h1.25M412.0 123.0h1.25M406.6 116.8h1.25M420.5 116.7h1.25M385.7 123.0h1.25M406.1 107.9h1.25M398.2 124.2h1.25M387.0 107.7h1.25M390.5 106.1h1.25M396.3 106.3h1.25M405.8 117.5h1.25M390.1 100.4h1.25M388.0 107.3h1.25M395.0 96.4h1.25M377.7 115.4h1.25M398.2 95.7h1.25M399.5 112.5h1.25M400.0 114.3h1.25M393.6 133.3h1.25M387.7 115.6h1.25M380.9 128.8h1.25M384.1 113.3h1.25M387.7 103.2h1.25M393.6 123.1h1.25M380.4 112.3h1.25M387.5 109.0h1.25M405.8 119.8h1.25M386.2 103.2h1.25M413.3 93.6h1.25M392.0 110.3h1.25M381.5 123.0h1.25M401.6 95.9h1.25M402.0 92.8h1.25M384.1 94.4h1.25M390.6 130.2h1.25M402.6 108.7h1.25M413.9 112.5h1.25M401.8 96.4h1.25M379.5 120.3h1.25M393.1 108.0h1.25M402.0 95.5h1.25M397.3 121.2h1.25M398.3 100.0h1.25M394.0 119.5h1.25M403.9 110.8h1.25M402.1 114.6h1.25M415.5 114.2h1.25M386.8 129.3h1.25M402.9 95.7h1.25M387.2 138.2h1.25M382.5 124.5h1.25M395.7 145.8h1.25M379.5 115.9h1.25M392.7 129.7h1.25M388.9 98.8h1.25M382.3 92.0h1.25M397.5 90.1h1.25M391.4 119.5h1.25M393.9 113.6h1.25M386.6 116.4h1.25M393.3 139.9h1.25M382.1 111.4h1.25M397.9 121.6h1.25M384.3 124.9h1.25M396.2 144.1h1.25M394.5 98.0h1.25M400.0 118.1h1.25M388.0 119.5h1.25M402.7 127.8h1.25M389.2 138.4h1.25M385.8 113.0h1.25M396.7 97.7h1.25M385.8 102.6h1.25M401.6 99.3h1.25M394.2 129.2h1.25M391.8 128.0h1.25M407.7 136.5h1.25M392.9 126.3h1.25M394.1 105.6h1.25M391.7 104.1h1.25M396.0 92.9h1.25M403.3 110.5h1.25M398.5 109.6h1.25M377.6 108.2h1.25M399.9 100.6h1.25M417.6 107.4h1.25M418.2 109.6h1.25M386.6 108.3h1.25M394.2 109.9h1.25M387.4 100.8h1.25M406.9 103.8h1.25M390.8 122.6h1.25M405.9 112.1h1.25M406.0 117.3h1.25M400.1 99.5h1.25M384.3 117.0h1.25M412.0 114.0h1.25M429.1 120.9h1.25M404.3 128.8h1.25M386.7 112.0h1.25M392.5 110.1h1.25M395.6 117.3h1.25M426.0 114.6h1.25M407.0 127.1h1.25M414.9 110.2h1.25M377.9 93.7h1.25M395.7 91.5h1.25M383.4 114.8h1.25M398.1 123.1h1.25M378.1 118.8h1.25M379.2 118.0h1.25M405.7 99.3h1.25M395.0 91.8h1.25M408.5 98.4h1.25M379.0 120.1h1.25M383.6 137.3h1.25M382.7 110.2h1.25M415.4 109.5h1.25M392.2 97.1h1.25M393.3 111.1h1.25M403.2 118.6h1.25M410.3 95.2h1.25M391.3 83.0h1.25M394.0 101.9h1.25M388.4 90.2h1.25M384.5 112.0h1.25M391.8 125.0h1.25M388.9 104.4h1.25M398.1 114.6h1.25M404.4 100.8h1.25M409.2 106.0h1.25M402.6 126.9h1.25M401.2 94.4h1.25M395.5 114.8h1.25M395.6 123.4h1.25M389.3 116.0h1.25M418.7 131.6h1.25M379.1 119.1h1.25M404.3 135.8h1.25M385.9 111.8h1.25M401.2 110.3h1.25M392.5 133.2h1.25M398.3 123.2h1.25M385.6 118.6h1.25M406.5 125.6h1.25M404.1 129.3h1.25M394.2 127.6h1.25M402.5 89.9h1.25M383.0 117.7h1.25M404.0 108.3h1.25M381.2 114.6h1.25M394.3 119.6h1.25M408.4 125.4h1.25M420.2 136.2h1.25M397.3 98.5h1.25M381.9 106.3h1.25M400.4 116.1h1.25M385.0 114.5h1.25M405.0 126.1h1.25M384.6 114.9h1.25M409.6 123.9h1.25M391.1 112.8h1.25M391.8 91.2h1.25M379.7 103.1h1.25M381.8 123.6h1.25M406.8 128.8h1.25M391.7 134.3h1.25M377.6 111.3h1.25M392.3 109.5h1.25M394.1 90.8h1.25M385.3 126.4h1.25M391.8 106.8h1.25M392.8 104.2h1.25M392.8 114.6h1.25M387.9 122.9h1.25M421.4 127.0h1.25M402.6 120.8h1.25M396.9 100.7h1.25M417.3 116.9h1.25M402.8 122.1h1.25M387.2 117.7h1.25M395.5 117.3h1.25M418.6 114.9h1.25M412.0 104.3h1.25M382.8 124.7h1.25M407.2 118.7h1.25M394.8 115.8h1.25M401.0 120.8h1.25M389.5 128.3h1.25M405.4 107.6h1.25M391.7 105.9h1.25M413.0 105.8h1.25M389.2 135.5h1.25M385.0 120.1h1.25M390.5 99.1h1.25M411.6 129.8h1.25M390.0 134.5h1.25M398.5 117.5h1.25M386.8 125.3h1.25M418.0 98.0h1.25M388.6 104.5h1.25M405.6 105.3h1.25M396.1 93.6h1.25M391.7 130.2h1.25M407.2 106.1h1.25M388.0 104.9h1.25M378.9 128.1h1.25M386.2 129.4h1.25M406.2 95.4h1.25M382.4 120.2h1.25M394.6 148.9h1.25M414.2 114.2h1.25M393.9 108.9h1.25M394.5 81.8h1.25M390.8 125.6h1.25M405.5 115.0h1.25M382.7 114.6h1.25M398.5 129.1h1.25M401.2 136.0h1.25M397.6 101.6h1.25M404.7 112.6h1.25M403.0 95.7h1.25M396.6 134.7h1.25M414.2 118.5h1.25M404.5 100.4h1.25M390.6 142.0h1.25M397.5 134.7h1.25M404.2 133.8h1.25M381.2 109.7h1.25M398.0 133.5h1.25M405.6 123.6h1.25M390.6 105.3h1.25M408.0 120.5h1.25M383.1 124.7h1.25M407.3 123.1h1.25M397.2 91.1h1.25M395.1 94.2h1.25M413.0 108.6h1.25M390.2 116.9h1.25M394.9 108.5h1.25M401.6 96.6h1.25M397.6 92.9h1.25M399.2 108.7h1.25M386.7 95.3h1.25M403.6 130.8h1.25M405.4 111.7h1.25M398.8 121.7h1.25M398.6 91.9h1.25M398.5 84.1h1.25M388.4 114.8h1.25M407.7 119.8h1.25M395.8 130.6h1.25M412.5 107.7h1.25M402.7 128.7h1.25M408.0 106.4h1.25M389.8 116.6h1.25M391.6 111.5h1.25M404.3 100.9h1.25M386.1 115.3h1.25M395.2 119.4h1.25M391.5 97.6h1.25M388.2 107.2h1.25M389.8 116.3h1.25M409.0 126.0h1.25M384.6 88.2h1.25M393.4 98.3h1.25M379.9 113.8h1.25M386.1 122.2h1.25M381.0 98.9h1.25M397.5 114.2h1.25M387.1 107.3h1.25M404.1 96.0h1.25M417.3 103.6h1.25M416.5 118.4h1.25M399.2 103.3h1.25M408.0 108.5h1.25M405.9 122.7h1.25M393.9 85.8h1.25M411.1 121.2h1.25M385.7 101.8h1.25M386.7 87.3h1.25M386.0 108.6h1.25M403.1 97.0h1.25M390.9 101.6h1.25M383.7 127.3h1.25M410.8 119.4h1.25M381.4 130.0h1.25M399.7 127.3h1.25M393.1 117.2h1.25M382.0 103.4h1.25M386.1 130.7h1.25M419.4 103.1h1.25M394.2 130.4h1.25M396.9 126.0h1.25M380.8 100.3h1.25M388.7 145.4h1.25M383.9 106.0h1.25M394.9 123.7h1.25M378.4 112.2h1.25M400.2 94.4h1.25M401.8 92.6h1.25M414.7 115.0h1.25M391.0 98.5h1.25M390.5 101.2h1.25M388.1 123.6h1.25M398.0 122.2h1.25M384.0 88.1h1.25M390.2 94.8h1.25M392.9 94.2h1.25M400.6 94.3h1.25M400.6 111.3h1.25M395.9 129.3h1.25M401.2 106.7h1.25M400.9 132.6h1.25M395.1 112.8h1.25M413.7 115.4h1.25M427.0 131.5h1.25M384.8 134.7h1.25M380.0 129.0h1.25M419.1 109.2h1.25M398.2 108.1h1.25M401.8 109.9h1.25M386.4 99.7h1.25M404.1 137.8h1.25M406.2 126.4h1.25M396.7 114.7h1.25M393.0 99.2h1.25M394.1 117.0h1.25M387.9 112.9h1.25M402.3 127.9h1.25M383.0 116.9h1.25M390.5 112.4h1.25M379.1 114.7h1.25M399.0 121.7h1.25M390.1 118.4h1.25M412.3 105.4h1.25M381.2 109.5h1.25M416.7 118.3h1.25M388.4 115.3h1.25M402.9 112.1h1.25M408.6 101.5h1.25M399.0 118.3h1.25M381.7 107.3h1.25M391.3 116.0h1.25M394.8 108.2h1.25M399.3 117.3h1.25M403.0 123.6h1.25M404.2 117.7h1.25M407.3 122.6h1.25M385.8 99.0h1.25M403.0 120.3h1.25M378.7 118.3h1.25M395.5 107.8h1.25M384.7 113.1h1.25M378.4 82.7h1.25M402.4 115.9h1.25M394.0 110.3h1.25M403.0 88.8h1.25M380.1 120.8h1.25M383.4 107.6h1.25M393.3 118.2h1.25M388.3 112.2h1.25M394.9 120.5h1.25M388.7 116.0h1.25M391.2 111.6h1.25M384.0 120.6h1.25M405.7 124.6h1.25M391.4 88.8h1.25M383.7 115.3h1.25M400.3 108.1h1.25M398.5 102.2h1.25M396.1 130.0h1.25M396.2 126.0h1.25M390.7 103.0h1.25M393.0 102.1h1.25M380.3 107.7h1.25M383.2 111.2h1.25M396.8 92.2h1.25M405.1 113.4h1.25M392.7 128.0h1.25M391.8 109.6h1.25M404.3 113.6h1.25M391.0 135.0h1.25M400.1 125.0h1.25M398.1 131.3h1.25M382.4 122.2h1.25M397.0 128.7h1.25M396.0 95.8h1.25M383.9 105.5h1.25M385.0 95.9h1.25M382.8 140.5h1.25M406.5 117.0h1.25M413.1 113.5h1.25M400.5 106.2h1.25M408.2 103.2h1.25M382.2 82.7h1.25M406.8 140.7h1.25M411.9 114.0h1.25M408.7 115.6h1.25M385.8 98.7h1.25M403.9 114.2h1.25M393.2 119.3h1.25M403.8 114.0h1.25M388.5 122.0h1.25M394.3 105.2h1.25M389.1 118.6h1.25M398.5 125.2h1.25M393.3 121.4h1.25M404.2 119.3h1.25M401.6 113.7h1.25M397.9 103.5h1.25M393.9 121.3h1.25M391.5 110.4h1.25M394.3 104.0h1.25M400.9 123.7h1.25M395.4 96.4h1.25M396.8 108.5h1.25M393.9 123.8h1.25M393.5 125.8h1.25M388.3 110.6h1.25M399.4 121.2h1.25M399.2 114.1h1.25M385.5 106.0h1.25M411.4 119.9h1.25M383.8 116.8h1.25M403.2 116.1h1.25M396.5 127.7h1.25M397.1 118.4h1.25M404.4 109.6h1.25M402.5 116.8h1.25M394.4 137.2h1.25M384.7 106.7h1.25M383.3 111.9h1.25M395.9 105.7h1.25M408.4 119.0h1.25M402.1 100.4h1.25M393.9 120.0h1.25M397.2 123.7h1.25M400.4 106.0h1.25M409.7 105.2h1.25M387.4 97.8h1.25M400.7 115.4h1.25M396.7 102.0h1.25M387.4 107.7h1.25M385.1 110.1h1.25M405.6 107.0h1.25M397.2 124.5h1.25M392.4 133.3h1.25M395.1 90.4h1.25M403.1 105.6h1.25M395.1 117.8h1.25M408.7 102.8h1.25M391.9 108.7h1.25M387.2 117.3h1.25M393.2 130.9h1.25M385.8 128.4h1.25M391.1 111.6h1.25M405.2 116.4h1.25M409.6 110.7h1.25M399.9 112.9h1.25M396.0 101.4h1.25M386.1 94.6h1.25M385.2 110.7h1.25M397.6 126.2h1.25M395.7 123.7h1.25M389.0 93.5h1.25M390.2 112.7h1.25M408.2 107.7h1.25M403.1 118.2h1.25M394.7 102.3h1.25M396.3 125.4h1.25M405.7 112.6h1.25M397.5 121.6h1.25M396.4 125.0h1.25M380.1 92.6h1.25M379.1 112.4h1.25M394.1 126.9h1.25M397.2 119.8h1.25M386.4 109.2h1.25M398.2 118.2h1.25M398.2 127.0h1.25M393.5 129.8h1.25M381.0 131.6h1.25M407.2 102.2h1.25M406.6 124.5h1.25M389.1 99.1h1.25M411.7 113.5h1.25M394.7 112.6h1.25M387.2 122.2h1.25M390.6 118.6h1.25M377.6 129.3h1.25M391.1 107.9h1.25M379.9 124.6h1.25M404.4 119.4h1.25M397.1 115.0h1.25M381.8 101.2h1.25M399.4 121.5h1.25M378.8 118.6h1.25M395.7 124.0h1.25M398.5 114.5h1.25M394.9 112.0h1.25M384.1 119.4h1.25M393.2 120.3h1.25M392.6 122.9h1.25M394.8 136.7h1.25M407.6 107.9h1.25M409.5 138.0h1.25M408.5 81.0h1.25M388.5 126.0h1.25M387.5 105.6h1.25M394.4 138.0h1.25M398.1 104.8h1.25M388.7 103.6h1.25M410.3 102.0h1.25M383.1 124.2h1.25M387.6 124.9h1.25M387.9 106.9h1.25M398.6 142.6h1.25M393.6 111.3h1.25M391.3 132.9h1.25M380.6 103.3h1.25M399.7 103.9h1.25M394.2 116.0h1.25M388.2 103.3h1.25M394.4 120.2h1.25M401.3 90.3h1.25M380.9 117.0h1.25M380.3 108.5h1.25M385.0 103.9h1.25M386.3 117.4h1.25M388.8 109.8h1.25M404.2 124.3h1.25M391.2 118.4h1.25M403.4 119.3h1.25M393.2 114.1h1.25M406.7 124.6h1.25M408.4 110.2h1.25M389.7 121.9h1.25M386.8 121.0h1.25M397.7 108.7h1.25M383.2 97.6h1.25M390.9 100.3h1.25M379.1 104.2h1.25M394.9 121.3h1.25M394.2 113.4h1.25M408.9 111.6h1.25M397.4 120.4h1.25M388.3 123.3h1.25M393.4 130.9h1.25M382.6 108.1h1.25M394.5 121.3h1.25M392.3 123.1h1.25M398.0 104.1h1.25M402.6 116.4h1.25M397.2 112.4h1.25M400.9 119.8h1.25M383.4 95.5h1.25M411.3 105.0h1.25M387.7 105.7h1.25M416.4 116.0h1.25M401.3 106.5h1.25M402.9 119.2h1.25M396.6 105.2h1.25M403.3 109.1h1.25M384.9 121.9h1.25M386.9 118.6h1.25M399.1 114.5h1.25M387.8 126.4h1.25M401.0 130.7h1.25M399.6 110.7h1.25M382.1 106.7h1.25M400.5 103.1h1.25M396.5 134.8h1.25M396.0 104.7h1.25M398.4 99.8h1.25M394.0 118.0h1.25M394.3 127.0h1.25M403.7 100.9h1.25M385.2 113.6h1.25M383.4 98.6h1.25M387.3 107.0h1.25M403.5 133.6h1.25M391.3 116.9h1.25M411.5 112.0h1.25M387.8 118.2h1.25M390.2 113.8h1.25M396.6 101.4h1.25M406.3 101.5h1.25M392.5 137.9h1.25M385.0 106.2h1.25M401.8 128.7h1.25M408.2 106.8h1.25M407.7 167.2h1.25M391.2 157.7h1.25M393.2 168.1h1.25M417.1 158.3h1.25M389.1 143.9h1.25M388.0 153.3h1.25M390.5 141.2h1.25M386.0 158.4h1.25M410.3 146.1h1.25M395.7 148.4h1.25M399.5 133.1h1.25M389.7 150.4h1.25M381.7 162.5h1.25M382.2 147.7h1.25M379.6 161.4h1.25M398.1 166.8h1.25M390.6 138.8h1.25M394.7 169.1h1.25M397.9 142.2h1.25M388.4 167.6h1.25M390.2 169.5h1.25M406.4 145.3h1.25M409.3 166.9h1.25M398.1 162.6h1.25M390.1 144.9h1.25M398.3 155.1h1.25M407.5 147.6h1.25M414.4 160.0h1.25M404.0 152.7h1.25M403.5 149.0h1.25M406.1 150.5h1.25M397.2 163.4h1.25M402.8 171.4h1.25M396.2 153.9h1.25M405.6 148.4h1.25M392.0 154.7h1.25M393.8 154.6h1.25M401.2 161.4h1.25M400.3 170.3h1.25M399.5 162.2h1.25M399.2 170.4h1.25M393.8 164.0h1.25M403.7 142.8h1.25M418.4 169.2h1.25M396.2 164.0h1.25M402.6 152.4h1.25M392.1 169.7h1.25M408.7 131.5h1.25M419.5 157.3h1.25M401.8 139.2h1.25M403.0 157.4h1.25M410.7 147.0h1.25M412.1 142.9h1.25M388.0 156.0h1.25M411.0 146.9h1.25M401.4 162.1h1.25M380.5 153.0h1.25M403.3 153.7h1.25M389.4 134.9h1.25M404.9 138.9h1.25M419.0 173.3h1.25M379.6 166.1h1.25M388.4 140.7h1.25M397.1 154.4h1.25M380.3 151.8h1.25M405.5 161.5h1.25M419.3 156.6h1.25M400.9 139.9h1.25M398.2 139.8h1.25M395.1 154.8h1.25M398.9 164.6h1.25M399.9 136.0h1.25M390.2 157.5h1.25M397.6 144.7h1.25M412.7 164.4h1.25M399.0 139.4h1.25M401.9 146.3h1.25M409.0 148.7h1.25M415.0 148.6h1.25M409.2 167.4h1.25M413.6 140.0h1.25M387.4 166.1h1.25M420.8 162.7h1.25M397.5 153.4h1.25M406.0 134.1h1.25M397.8 158.2h1.25M384.0 161.0h1.25M405.2 153.9h1.25M389.1 152.6h1.25M414.7 149.8h1.25M395.0 145.0h1.25M409.7 162.5h1.25M403.7 151.1h1.25M403.9 137.7h1.25M404.6 157.9h1.25M393.2 160.5h1.25M404.5 138.7h1.25M388.5 153.7h1.25M422.1 153.5h1.25M393.7 139.7h1.25M382.1 171.4h1.25M384.6 137.9h1.25M392.3 160.5h1.25M383.9 167.7h1.25M406.7 148.3h1.25M430.2 162.1h1.25M422.7 162.1h1.25M389.1 144.8h1.25M388.7 157.4h1.25M399.9 163.7h1.25M384.9 151.8h1.25M384.6 171.5h1.25M397.4 172.5h1.25M387.5 142.4h1.25M400.8 147.5h1.25M402.0 141.9h1.25M418.9 155.5h1.25M416.3 157.9h1.25M416.0 139.7h1.25M402.1 155.4h1.25M413.7 152.0h1.25M408.4 150.7h1.25M392.5 147.8h1.25M400.4 152.9h1.25M387.3 157.9h1.25M396.2 136.4h1.25M397.4 166.0h1.25M391.8 157.6h1.25M400.5 148.9h1.25M398.1 131.6h1.25M399.4 135.0h1.25M395.8 168.5h1.25M393.5 155.4h1.25M383.5 149.5h1.25M395.7 156.1h1.25M397.4 147.2h1.25M401.0 150.2h1.25M394.9 147.0h1.25M407.5 164.2h1.25M396.5 156.0h1.25M401.3 168.5h1.25M392.3 160.0h1.25M384.7 138.9h1.25M400.4 133.5h1.25M393.4 149.7h1.25M405.7 143.0h1.25M415.8 145.3h1.25M406.9 138.9h1.25M400.4 158.8h1.25M397.6 156.4h1.25M397.7 159.6h1.25M394.2 151.8h1.25M390.8 153.8h1.25M398.5 157.1h1.25M403.6 167.4h1.25M411.0 153.7h1.25M389.0 172.4h1.25M400.3 158.4h1.25M398.7 157.3h1.25M393.3 158.1h1.25M405.1 169.4h1.25M393.2 144.8h1.25M385.6 155.3h1.25M399.2 139.6h1.25M382.6 148.8h1.25M413.3 144.4h1.25M390.4 166.1h1.25M419.5 156.0h1.25M404.8 158.8h1.25M389.5 149.8h1.25M398.4 167.1h1.25M382.8 152.1h1.25M403.8 156.5h1.25M403.0 146.5h1.25M389.8 168.4h1.25M388.4 161.3h1.25M396.6 157.5h1.25M392.6 126.7h1.25M411.6 156.1h1.25M407.2 134.6h1.25M405.1 131.6h1.25M403.6 146.9h1.25M410.1 154.6h1.25M408.0 153.1h1.25M395.7 139.6h1.25M400.7 162.6h1.25M390.3 149.9h1.25M387.5 155.0h1.25M398.6 148.7h1.25M409.1 139.2h1.25M394.1 157.0h1.25M398.8 138.1h1.25M401.1 162.1h1.25M409.0 168.7h1.25M417.0 153.6h1.25M383.1 155.1h1.25M378.8 157.9h1.25M388.7 137.9h1.25M383.8 159.3h1.25M388.9 145.3h1.25M383.1 147.2h1.25M401.4 146.3h1.25M393.8 168.2h1.25M404.1 131.6h1.25M416.3 157.6h1.25M397.2 161.6h1.25M395.4 158.0h1.25M408.9 148.6h1.25M383.4 147.3h1.25M423.3 165.4h1.25M407.4 165.4h1.25M385.2 140.1h1.25M412.2 162.0h1.25M389.6 159.4h1.25M420.3 139.1h1.25M387.4 158.2h1.25M386.4 159.7h1.25M404.0 143.8h1.25M382.3 150.4h1.25M409.6 149.1h1.25M420.9 161.1h1.25M401.5 162.1h1.25M413.9 158.6h1.25M399.7 159.0h1.25M393.6 145.1h1.25M407.5 145.5h1.25M419.4 164.4h1.25M403.7 150.1h1.25M383.0 170.8h1.25M388.8 149.3h1.25M395.9 145.2h1.25M379.0 139.7h1.25M405.0 147.2h1.25M397.0 164.7h1.25M384.2 151.1h1.25M397.4 169.6h1.25M395.5 144.1h1.25M414.6 162.9h1.25M389.1 125.6h1.25M413.4 153.3h1.25M387.8 137.2h1.25M382.7 169.8h1.25M382.4 167.5h1.25M392.9 130.2h1.25M406.0 142.4h1.25M379.1 163.9h1.25M381.6 154.2h1.25M395.4 165.2h1.25M397.0 146.4h1.25M413.0 163.7h1.25M393.8 142.8h1.25M394.4 165.8h1.25M408.5 168.0h1.25M404.0 164.1h1.25M389.2 163.9h1.25M384.3 163.3h1.25M387.1 172.8h1.25M386.4 160.4h1.25M418.8 166.8h1.25M388.2 164.2h1.25M397.8 144.3h1.25M395.4 153.6h1.25M408.1 161.2h1.25M390.8 145.5h1.25M394.0 164.2h1.25M409.4 156.8h1.25M396.8 162.4h1.25M399.8 152.0h1.25M407.4 148.2h1.25M386.3 166.2h1.25M408.2 163.3h1.25M397.9 160.3h1.25M414.1 142.6h1.25M383.8 166.4h1.25M391.1 145.9h1.25M391.2 138.9h1.25M406.6 153.6h1.25M413.6 140.1h1.25M404.8 137.1h1.25M389.9 150.2h1.25M392.5 169.6h1.25M423.6 160.8h1.25M406.2 165.4h1.25M407.6 150.3h1.25M390.3 150.2h1.25M436.0 100.0h1.25M449.9 109.4h1.25M429.1 103.0h1.25M460.3 95.6h1.25M448.2 99.5h1.25M439.1 104.9h1.25M425.1 113.6h1.25M446.5 97.7h1.25M436.0 90.3h1.25M446.1 93.1h1.25M433.6 92.3h1.25M435.8 110.6h1.25M450.9 89.5h1.25M462.1 114.3h1.25M426.4 105.4h1.25M440.3 100.7h1.25M447.9 114.4h1.25M440.9 97.6h1.25M437.1 99.0h1.25M471.0 104.9h1.25M431.9 111.1h1.25M447.6 89.7h1.25M436.5 128.8h1.25M441.6 107.6h1.25M413.2 92.8h1.25M454.4 97.4h1.25M440.1 111.7h1.25M430.3 105.8h1.25M464.5 106.9h1.25M439.3 127.4h1.25M434.9 112.7h1.25M431.9 124.8h1.25M456.7 106.3h1.25M443.3 94.1h1.25M438.9 118.3h1.25M425.7 96.7h1.25M431.1 113.7h1.25M447.4 107.7h1.25M442.6 92.3h1.25M416.7 98.2h1.25M431.5 101.4h1.25M445.8 105.3h1.25M477.8 109.9h1.25M433.1 104.0h1.25M414.0 126.9h1.25M452.8 109.3h1.25M436.6 95.7h1.25M425.7 97.8h1.25M450.2 101.3h1.25M439.9 96.5h1.25M430.4 102.8h1.25M425.8 112.9h1.25M441.3 104.8h1.25M444.0 112.0h1.25M419.8 98.2h1.25M455.7 90.2h1.25M426.4 89.4h1.25M461.1 79.5h1.25M447.2 96.2h1.25M440.5 102.9h1.25M447.2 98.9h1.25M435.2 103.2h1.25M442.0 124.0h1.25M464.3 86.4h1.25M435.5 100.2h1.25M453.5 94.8h1.25M431.2 94.0h1.25M442.6 116.5h1.25M455.4 99.4h1.25M427.3 118.0h1.25M447.3 89.0h1.25M414.9 126.8h1.25M428.0 128.8h1.25M437.5 93.4h1.25M454.4 99.8h1.25M452.2 98.9h1.25M431.0 109.9h1.25M441.2 88.2h1.25M445.3 106.6h1.25M422.6 113.2h1.25M448.4 94.5h1.25M460.5 74.6h1.25M459.1 91.9h1.25M435.2 99.0h1.25M437.6 111.1h1.25M430.7 97.3h1.25M436.5 90.7h1.25M439.6 109.2h1.25M451.8 104.5h1.25M444.0 109.7h1.25M430.8 104.5h1.25M453.5 111.6h1.25M454.3 105.6h1.25M435.0 84.1h1.25M439.7 104.7h1.25M441.6 110.6h1.25M421.5 106.0h1.25M444.7 117.5h1.25M451.6 95.6h1.25M468.2 105.2h1.25M445.4 88.3h1.25M439.2 102.6h1.25M441.0 96.4h1.25M450.9 89.9h1.25M453.3 86.2h1.25M431.8 106.3h1.25M445.4 106.2h1.25M451.4 93.7h1.25M416.8 93.1h1.25M460.8 89.6h1.25M458.4 88.9h1.25M461.5 85.6h1.25M432.4 123.3h1.25M441.4 128.0h1.25M467.6 92.9h1.25M444.3 114.8h1.25M446.5 133.7h1.25M430.8 127.8h1.25M429.9 98.7h1.25M457.1 139.7h1.25M438.7 108.9h1.25M440.6 128.7h1.25M466.8 115.4h1.25M455.0 103.6h1.25M468.4 99.2h1.25M447.3 133.4h1.25M452.9 98.4h1.25M426.0 123.5h1.25M435.8 128.3h1.25M447.0 134.4h1.25M442.8 133.1h1.25M437.0 133.3h1.25M460.2 116.2h1.25M456.9 105.1h1.25M436.7 120.1h1.25M448.7 115.2h1.25M441.2 120.3h1.25M439.9 113.2h1.25M452.5 86.7h1.25M462.7 126.6h1.25M434.1 110.9h1.25M450.7 94.7h1.25M457.3 95.7h1.25M461.2 130.7h1.25M444.9 114.9h1.25M442.6 83.7h1.25M445.0 127.9h1.25M445.7 99.4h1.25M454.2 137.7h1.25M440.8 126.6h1.25M457.4 113.4h1.25M438.3 92.4h1.25M441.8 133.0h1.25M450.9 128.6h1.25M434.5 132.5h1.25M459.9 92.4h1.25M454.8 98.7h1.25M440.5 107.4h1.25M450.1 102.9h1.25M460.1 104.5h1.25M443.2 111.5h1.25M463.3 125.0h1.25M443.1 129.5h1.25M460.4 131.3h1.25M453.8 92.5h1.25M459.2 87.7h1.25M443.0 119.5h1.25M461.3 104.3h1.25M454.5 109.3h1.25M449.8 105.6h1.25M451.1 129.3h1.25M461.0 121.8h1.25M460.2 91.7h1.25M455.0 96.6h1.25M451.3 130.3h1.25M432.8 99.0h1.25M464.9 114.6h1.25M455.8 122.2h1.25M460.3 104.9h1.25M433.9 92.6h1.25M443.9 99.2h1.25M422.8 106.2h1.25M433.6 111.7h1.25M438.0 88.9h1.25M433.5 101.1h1.25M427.5 116.8h1.25M449.8 133.0h1.25M450.8 123.7h1.25M436.1 99.3h1.25M455.1 115.2h1.25M449.0 94.8h1.25M430.5 132.7h1.25M441.6 135.4h1.25M440.3 90.2h1.25M438.8 126.9h1.25M456.2 136.2h1.25M447.5 102.4h1.25M462.4 95.8h1.25M424.5 113.6h1.25M445.8 104.1h1.25M447.1 122.4h1.25M426.0 104.6h1.25M432.3 101.3h1.25M434.5 94.3h1.25M452.0 89.4h1.25M439.1 106.6h1.25M429.1 120.6h1.25M432.8 122.9h1.25M462.9 112.8h1.25M436.2 129.6h1.25M472.0 101.1h1.25M438.2 88.1h1.25M439.0 124.9h1.25M458.5 99.0h1.25M455.1 110.4h1.25M425.4 124.8h1.25M445.7 129.5h1.25M433.3 122.0h1.25M464.9 120.5h1.25M436.1 104.8h1.25M434.5 118.5h1.25M452.2 84.6h1.25M460.8 100.7h1.25M445.7 102.5h1.25M430.3 126.0h1.25M454.3 121.7h1.25M449.0 125.9h1.25M448.4 136.8h1.25M452.2 108.9h1.25M455.6 92.2h1.25M461.3 122.8h1.25M419.0 115.0h1.25M448.7 90.2h1.25M443.3 91.3h1.25M424.8 98.6h1.25M464.6 103.7h1.25M454.3 109.6h1.25M451.5 129.2h1.25M461.3 95.3h1.25M464.2 112.8h1.25M472.0 99.6h1.25M465.9 91.0h1.25M425.9 121.1h1.25M441.0 100.3h1.25M458.5 101.6h1.25M461.0 89.6h1.25M449.0 114.4h1.25M431.1 129.6h1.25M446.1 88.3h1.25M447.1 127.1h1.25M427.6 122.0h1.25M461.2 98.7h1.25M449.8 123.5h1.25M466.4 90.1h1.25M456.0 115.5h1.25M434.4 129.2h1.25M442.0 99.5h1.25M454.4 129.6h1.25M428.6 100.2h1.25M452.4 124.2h1.25M463.8 96.2h1.25M454.0 127.6h1.25M450.8 116.5h1.25M439.4 115.6h1.25M462.2 85.2h1.25M425.9 112.1h1.25M428.6 102.3h1.25M458.0 113.7h1.25M441.4 127.3h1.25M440.8 93.5h1.25M425.1 110.1h1.25M464.8 108.4h1.25M438.6 121.5h1.25M456.2 133.3h1.25M438.9 89.9h1.25M456.9 93.9h1.25M466.2 105.7h1.25M433.6 93.1h1.25M473.0 98.1h1.25M441.1 110.9h1.25M446.0 133.1h1.25M433.6 111.2h1.25M439.7 135.5h1.25M454.4 94.9h1.25M448.8 99.4h1.25M461.0 117.3h1.25M454.2 92.2h1.25M452.4 126.5h1.25M435.0 104.8h1.25M459.4 99.0h1.25M459.2 130.9h1.25M437.9 120.4h1.25M456.5 89.9h1.25M440.5 101.6h1.25M440.4 107.0h1.25M454.2 122.8h1.25M425.9 109.5h1.25M454.7 97.2h1.25M440.5 109.1h1.25M434.3 92.8h1.25M448.0 90.9h1.25M434.2 124.1h1.25M439.5 110.5h1.25M441.6 121.8h1.25M446.9 135.4h1.25M464.9 114.5h1.25M460.9 102.9h1.25M441.6 121.6h1.25M448.6 93.9h1.25M453.0 120.5h1.25M445.7 110.1h1.25M450.9 92.9h1.25M442.0 88.4h1.25M425.9 118.9h1.25M463.1 127.2h1.25M449.1 83.2h1.25M426.5 108.6h1.25M466.0 98.3h1.25M452.3 94.5h1.25M465.6 118.9h1.25M453.1 115.0h1.25M462.2 96.0h1.25M431.1 105.5h1.25M462.3 86.1h1.25M427.3 95.9h1.25M455.9 96.2h1.25M446.0 85.3h1.25M447.0 120.2h1.25M440.6 95.5h1.25M464.4 122.1h1.25M443.0 129.7h1.25M459.8 87.7h1.25M449.1 132.4h1.25M454.8 130.1h1.25M451.3 103.1h1.25M460.9 99.7h1.25M457.8 98.3h1.25M429.4 121.5h1.25M441.0 98.7h1.25M440.9 104.5h1.25M447.2 106.7h1.25M431.3 96.5h1.25M466.1 102.3h1.25M436.0 88.4h1.25M456.0 91.1h1.25M435.8 105.8h1.25M453.5 100.1h1.25M440.7 126.6h1.25M458.6 138.8h1.25M440.6 111.0h1.25M451.8 131.1h1.25M437.4 103.4h1.25M444.6 108.7h1.25M440.7 90.8h1.25M455.9 94.8h1.25M447.3 110.0h1.25M437.5 121.9h1.25M459.0 110.7h1.25M451.6 106.7h1.25M463.9 99.6h1.25M451.1 123.8h1.25M421.2 109.0h1.25M459.1 98.5h1.25M456.0 103.6h1.25M428.9 97.6h1.25M444.5 111.4h1.25M453.0 128.7h1.25M442.5 108.8h1.25M468.3 89.1h1.25M447.6 87.5h1.25M455.3 101.3h1.25M430.5 90.6h1.25M460.2 134.1h1.25M426.5 119.3h1.25M465.0 102.3h1.25M433.8 117.4h1.25M470.1 107.7h1.25M433.3 108.9h1.25M448.1 106.4h1.25M442.1 87.2h1.25M428.7 116.5h1.25M428.0 105.6h1.25M464.4 90.5h1.25M452.1 130.4h1.25M443.5 134.1h1.25M436.6 113.1h1.25M438.7 121.1h1.25M434.8 128.5h1.25M441.9 105.7h1.25M429.5 124.5h1.25M463.3 111.1h1.25M453.6 96.8h1.25M464.7 111.5h1.25M437.7 87.8h1.25M454.8 79.4h1.25M463.7 116.9h1.25M455.7 117.5h1.25M467.6 114.6h1.25M469.6 88.6h1.25M441.8 116.0h1.25M461.1 120.4h1.25M465.1 104.7h1.25M442.4 95.6h1.25M462.3 101.8h1.25M441.0 105.4h1.25M455.9 101.0h1.25M433.0 117.0h1.25M426.0 109.7h1.25M460.9 113.6h1.25M455.9 124.7h1.25M450.8 122.5h1.25M442.7 116.2h1.25M458.2 109.4h1.25M463.4 121.0h1.25M435.2 103.9h1.25M450.5 121.6h1.25M425.2 105.5h1.25M425.5 115.6h1.25M425.7 136.2h1.25M441.7 145.8h1.25M440.2 153.1h1.25M429.4 160.4h1.25M445.1 162.4h1.25M413.1 167.4h1.25M434.1 157.3h1.25M433.2 152.9h1.25M432.3 162.2h1.25M438.8 153.9h1.25M428.9 150.2h1.25M430.7 150.3h1.25M441.3 164.2h1.25M431.2 169.8h1.25M423.9 168.1h1.25M436.7 138.9h1.25M431.5 165.9h1.25M427.6 143.7h1.25M436.6 151.5h1.25M426.0 160.8h1.25M424.3 141.6h1.25M430.1 142.7h1.25M430.6 147.4h1.25M432.6 171.8h1.25M422.5 165.7h1.25M445.9 145.9h1.25M437.6 156.3h1.25M433.3 156.3h1.25M434.0 158.1h1.25M412.1 147.8h1.25M439.5 169.3h1.25M424.0 151.1h1.25M436.2 163.1h1.25M422.6 138.1h1.25M440.0 158.9h1.25M427.9 156.4h1.25M430.4 168.5h1.25M444.4 129.0h1.25M440.1 160.5h1.25M421.1 163.1h1.25M426.6 152.3h1.25M433.7 168.1h1.25M438.6 163.8h1.25M426.7 163.0h1.25M445.4 166.6h1.25M434.2 154.4h1.25M450.4 161.3h1.25M451.1 155.2h1.25M434.1 160.3h1.25M461.0 157.8h1.25M439.0 152.3h1.25M446.2 160.5h1.25M450.0 166.0h1.25M449.3 154.5h1.25M429.8 153.3h1.25M454.7 163.7h1.25M444.6 173.6h1.25M450.1 158.3h1.25M432.7 152.7h1.25M448.8 152.1h1.25M440.5 166.5h1.25M457.2 160.5h1.25M458.7 152.3h1.25M450.6 148.2h1.25M459.0 159.6h1.25M446.2 161.9h1.25M435.8 165.5h1.25M463.7 156.4h1.25M460.0 160.2h1.25M460.8 157.4h1.25M434.3 148.2h1.25M439.6 161.1h1.25M436.7 159.1h1.25M438.4 148.3h1.25M437.5 164.6h1.25M441.1 165.5h1.25M449.6 146.8h1.25M444.8 154.6h1.25M453.1 143.4h1.25M441.2 163.5h1.25M443.4 153.6h1.25M448.7 158.0h1.25" stroke="#111" stroke-width="1.25" fill="none"/>
<path d="M376.2 37.3H509.6V175.3" fill="none" stroke="#3a3a3a" stroke-width="1"/>
<path d="M376.2 36.8V175.3H510.1" fill="none" stroke="#111" stroke-width="1.4"/>
<path d="M421.3 37.3V175.3M376.2 140.9H509.6" stroke="#1a1a1a" stroke-width="1.3" fill="none"/>
<path d="M376.2 175.3v4.2M376.2 175.3h-4M386.2 175.3v2.4M376.2 164.9h-2.5M392.1 175.3v2.4M376.2 158.8h-2.5M396.3 175.3v2.4M376.2 154.5h-2.5M399.5 175.3v2.4M376.2 151.2h-2.5M402.2 175.3v2.4M376.2 148.5h-2.5M404.4 175.3v2.4M376.2 146.1h-2.5M406.3 175.3v2.4M376.2 144.1h-2.5M408.0 175.3v2.4M376.2 142.4h-2.5M409.6 175.3v4.2M376.2 140.8h-4M419.6 175.3v2.4M376.2 130.4h-2.5M425.5 175.3v2.4M376.2 124.3h-2.5M429.6 175.3v2.4M376.2 120.0h-2.5M432.9 175.3v2.4M376.2 116.7h-2.5M435.5 175.3v2.4M376.2 114.0h-2.5M437.7 175.3v2.4M376.2 111.6h-2.5M439.7 175.3v2.4M376.2 109.6h-2.5M441.4 175.3v2.4M376.2 107.9h-2.5M442.9 175.3v4.2M376.2 106.3h-4M452.9 175.3v2.4M376.2 95.9h-2.5M458.8 175.3v2.4M376.2 89.8h-2.5M463.0 175.3v2.4M376.2 85.5h-2.5M466.2 175.3v2.4M376.2 82.2h-2.5M468.9 175.3v2.4M376.2 79.5h-2.5M471.1 175.3v2.4M376.2 77.1h-2.5M473.0 175.3v2.4M376.2 75.1h-2.5M474.7 175.3v2.4M376.2 73.4h-2.5M476.2 175.3v4.2M376.2 71.8h-4M486.3 175.3v2.4M376.2 61.4h-2.5M492.2 175.3v2.4M376.2 55.3h-2.5M496.3 175.3v2.4M376.2 51.0h-2.5M499.6 175.3v2.4M376.2 47.7h-2.5M502.2 175.3v2.4M376.2 45.0h-2.5M504.4 175.3v2.4M376.2 42.6h-2.5M506.4 175.3v2.4M376.2 40.6h-2.5M508.1 175.3v2.4M376.2 38.9h-2.5M509.6 175.3v4.2M376.2 37.3h-4" stroke="#222" stroke-width="1" fill="none"/>
<text class="tk" x="368.8" y="190.7">10<tspan font-size="6.5" dy="-3.5" stroke-width=".2">0</tspan></text>
<text class="tk" x="356.6" y="178.7">10<tspan font-size="6.5" dy="-3.5" stroke-width=".2">0</tspan></text>
<text class="tk" x="402.2" y="190.7">10<tspan font-size="6.5" dy="-3.5" stroke-width=".2">1</tspan></text>
<text class="tk" x="356.6" y="144.2">10<tspan font-size="6.5" dy="-3.5" stroke-width=".2">1</tspan></text>
<text class="tk" x="435.5" y="190.7">10<tspan font-size="6.5" dy="-3.5" stroke-width=".2">2</tspan></text>
<text class="tk" x="356.6" y="109.7">10<tspan font-size="6.5" dy="-3.5" stroke-width=".2">2</tspan></text>
<text class="tk" x="468.9" y="190.7">10<tspan font-size="6.5" dy="-3.5" stroke-width=".2">3</tspan></text>
<text class="tk" x="356.6" y="75.2">10<tspan font-size="6.5" dy="-3.5" stroke-width=".2">3</tspan></text>
<text class="tk" x="502.2" y="190.7">10<tspan font-size="6.5" dy="-3.5" stroke-width=".2">4</tspan></text>
<text class="tk" x="356.6" y="40.7">10<tspan font-size="6.5" dy="-3.5" stroke-width=".2">4</tspan></text>
<text class="pc" x="382.0" y="52.6">68%</text>
<text class="pc" x="508.0" y="52.6" text-anchor="end">21%</text>
<text class="pc" x="508.0" y="171.7" text-anchor="end">3%</text>
<text class="ax" x="440.5" y="210.2" text-anchor="middle" letter-spacing="-.3">CLA</text>
<text class="big" x="48" y="26.6">A</text>
<text class="ax" transform="translate(19.4 117.7) rotate(-90)" text-anchor="middle" style="font-size:22px">CD25</text>
<text class="big" x="46.6" y="252.9">B</text>
<path d="M65.63 262.9L64.56 459.01L260 460.09M64.56 459.01h-5.6M64.92 393.35h-5.6M65.28 328.10h-5.6M65.63 262.85h-5.6M64.65 442.3h-3M64.74 426.0h-3M64.83 409.7h-3M65.01 377.0h-3M65.10 360.7h-3M65.19 344.4h-3M65.37 311.8h-3M65.45 295.5h-3M65.54 279.2h-3M65.1 459.02v5.8M153.8 459.51v5.8M242.5 459.99v5.8M109.5 459.26v3.4M198.2 459.75v3.4" stroke="#111" stroke-width="1.2" fill="none"/>
<text class="gt" x="57.4" y="464.8" text-anchor="end">0</text>
<text class="gt" x="57.4" y="399.0" text-anchor="end">25</text>
<text class="gt" x="57.4" y="333.7" text-anchor="end">50</text>
<text class="gt" x="57.4" y="268.5" text-anchor="end">75</text>
<text class="gt" x="65.2" y="481.4" text-anchor="middle">0.0</text>
<text class="gt" x="153.9" y="481.4" text-anchor="middle">0.5</text>
<text class="gt" x="242.6" y="481.4" text-anchor="middle">1.0</text>
<text class="g" x="160.6" y="503.5" text-anchor="middle">CD25+/CD25- ratio</text>
<text transform="translate(21 347) rotate(-90)" text-anchor="middle" font-size="20.5" stroke="#111" stroke-width=".25">cpm (x 10<tspan font-size="14" dy="-6.5">3</tspan><tspan dy="6.5">)</tspan></text>
<path d="M65.4 287.0L109.8 339.9L154.1 376.8L242.8 399.4M65.4 287.0L109.8 350.3L154.1 413.6L242.8 418.8M65.4 287.0L109.8 380.4L154.1 432.1L242.8 436.1" stroke="#111" stroke-width="1.2" fill="none"/>
<path d="M65.4 275.7V298.6M60.4 275.7h10M60.4 298.6h10M109.8 330.7V349.0M104.8 330.7h10M104.8 349.0h10M242.8 394.1V404.7M237.8 394.1h10M237.8 404.7h10M242.8 427.6V444.2M237.8 427.6h10M237.8 444.2h10M242.8 420.0V427.6M237.8 420.0h10M237.8 427.6h10" stroke="#111" stroke-width="1.2" fill="none"/>
<circle cx="109.8" cy="339.9" r="5.1" fill="#111"/>
<circle cx="154.1" cy="376.8" r="5.1" fill="#111"/>
<circle cx="242.8" cy="399.4" r="5.1" fill="#111"/>
<rect x="105.0" y="345.8" width="9.6" height="9.0" fill="#fff" stroke="#111" stroke-width="2"/>
<rect x="149.3" y="408.0" width="9.6" height="11.2" fill="#fff" stroke="#111" stroke-width="2"/>
<rect x="238.0" y="413.2" width="9.6" height="11.2" fill="#fff" stroke="#111" stroke-width="2"/>
<path d="M106.2 348.6h7M109.8 345.5v3.1" stroke="#111" stroke-width="1" fill="none"/>
<rect x="59.8" y="281.4" width="11.2" height="11.2" fill="#111"/>
<rect x="104.7" y="375.3" width="10.2" height="10.2" fill="#111"/>
<rect x="149.0" y="427.0" width="10.2" height="10.2" fill="#111"/>
<rect x="237.7" y="431.0" width="10.2" height="10.2" fill="#111"/>
<path d="M167 282.5H194.3" stroke="#111" stroke-width="1.2"/>
<rect x="176" y="277.9" width="9.4" height="9.4" fill="#fff" stroke="#111" stroke-width="1.6"/>
<text class="g" x="199" y="287.2">total CD4+CD25+</text>
<path d="M167 304.8H194.3" stroke="#111" stroke-width="1.2"/>
<rect x="175.8" y="299.90000000000003" width="9.8" height="9.8" fill="#111"/>
<text class="g" x="199" y="310.9" letter-spacing=".2">CLA+CD25+</text>
<path d="M167 328.6H194.3" stroke="#111" stroke-width="1.2"/>
<circle cx="181.3" cy="328.6" r="4.9" fill="#111"/>
<text class="g" x="199" y="333.8" letter-spacing=".2">CLA-CD25+</text>
</svg></body></html>
